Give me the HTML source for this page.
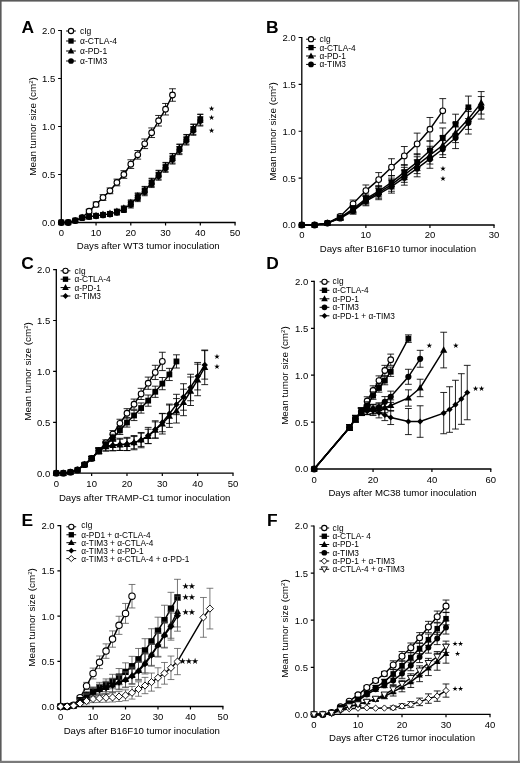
<!DOCTYPE html>
<html lang="en"><head><meta charset="utf-8"><title>Figure</title>
<style>html,body{margin:0;padding:0;background:#fff}svg{display:block}</style></head>
<body>
<svg width="520" height="763" viewBox="0 0 520 763" font-family='"Liberation Sans", sans-serif' font-size="9.5" fill="#000">
<rect x="0" y="0" width="520" height="763" fill="#fff"/>
<text x="21.6" y="33.4" font-size="17.4" font-weight="bold">A</text>
<path d="M61.3,29.9V222.5H235.65" fill="none" stroke="#000" stroke-width="1.3" stroke-linejoin="miter"/>
<text x="55.3" y="225.9" text-anchor="end">0.0</text>
<text x="55.3" y="177.9" text-anchor="end">0.5</text>
<text x="55.3" y="129.9" text-anchor="end">1.0</text>
<text x="55.3" y="81.9" text-anchor="end">1.5</text>
<text x="55.3" y="33.9" text-anchor="end">2.0</text>
<text x="61.3" y="235.7" text-anchor="middle">0</text>
<text x="96.05" y="235.7" text-anchor="middle">10</text>
<text x="130.8" y="235.7" text-anchor="middle">20</text>
<text x="165.55" y="235.7" text-anchor="middle">30</text>
<text x="200.3" y="235.7" text-anchor="middle">40</text>
<text x="235.05" y="235.7" text-anchor="middle">50</text>
<path d="M58.1,222.5H61.3M58.1,174.5H61.3M58.1,126.5H61.3M58.1,78.5H61.3M58.1,30.5H61.3M61.3,222.5V225.4M96.05,222.5V225.4M130.8,222.5V225.4M165.55,222.5V225.4M200.3,222.5V225.4M235.05,222.5V225.4" fill="none" stroke="#000" stroke-width="1.2"/>
<text x="148.18" y="249.35" text-anchor="middle" font-size="9.65">Days after WT3 tumor inoculation</text>
<text transform="translate(36.3,126.5) rotate(-90)" text-anchor="middle" font-size="9.85">Mean tumor size (cm<tspan font-size="6" dy="-3.2">2</tspan><tspan dy="3.2">)</tspan></text>
<path d="M82.15,216.26V219.14M78.75,216.26H85.55M78.75,219.14H85.55M89.1,209.35V213.19M85.7,209.35H92.5M85.7,213.19H92.5M96.05,202.05V206.85M92.65,202.05H99.45M92.65,206.85H99.45M103,194.66V200.42M99.6,194.66H106.4M99.6,200.42H106.4M109.95,187.94V193.7M106.55,187.94H113.35M106.55,193.7H113.35M116.9,179.11V185.83M113.5,179.11H120.3M113.5,185.83H120.3M123.85,170.66V178.34M120.45,170.66H127.25M120.45,178.34H127.25M130.8,159.81V168.45M127.4,159.81H134.2M127.4,168.45H134.2M137.75,150.5V159.14M134.35,150.5H141.15M134.35,159.14H141.15M144.7,138.98V148.58M141.3,138.98H148.1M141.3,148.58H148.1M151.65,127.94V137.54M148.25,127.94H155.05M148.25,137.54H155.05M158.6,115.46V126.02M155.2,115.46H162M155.2,126.02H162M165.55,103.46V114.98M162.15,103.46H168.95M162.15,114.98H168.95M172.5,88.77V101.25M169.1,88.77H175.9M169.1,101.25H175.9" fill="none" stroke="#000" stroke-width="0.85"/>
<polyline points="61.3,222.5 68.25,222.5 75.2,220.58 82.15,217.7 89.1,211.27 96.05,204.45 103,197.54 109.95,190.82 116.9,182.47 123.85,174.5 130.8,164.13 137.75,154.82 144.7,143.78 151.65,132.74 158.6,120.74 165.55,109.22 172.5,95.01" fill="none" stroke="#000" stroke-width="1.45"/>
<circle cx="61.3" cy="222.5" r="2.85" fill="#fff" stroke="#000" stroke-width="1.1"/><circle cx="68.25" cy="222.5" r="2.85" fill="#fff" stroke="#000" stroke-width="1.1"/><circle cx="75.2" cy="220.58" r="2.85" fill="#fff" stroke="#000" stroke-width="1.1"/><circle cx="82.15" cy="217.7" r="2.85" fill="#fff" stroke="#000" stroke-width="1.1"/><circle cx="89.1" cy="211.27" r="2.85" fill="#fff" stroke="#000" stroke-width="1.1"/><circle cx="96.05" cy="204.45" r="2.85" fill="#fff" stroke="#000" stroke-width="1.1"/><circle cx="103" cy="197.54" r="2.85" fill="#fff" stroke="#000" stroke-width="1.1"/><circle cx="109.95" cy="190.82" r="2.85" fill="#fff" stroke="#000" stroke-width="1.1"/><circle cx="116.9" cy="182.47" r="2.85" fill="#fff" stroke="#000" stroke-width="1.1"/><circle cx="123.85" cy="174.5" r="2.85" fill="#fff" stroke="#000" stroke-width="1.1"/><circle cx="130.8" cy="164.13" r="2.85" fill="#fff" stroke="#000" stroke-width="1.1"/><circle cx="137.75" cy="154.82" r="2.85" fill="#fff" stroke="#000" stroke-width="1.1"/><circle cx="144.7" cy="143.78" r="2.85" fill="#fff" stroke="#000" stroke-width="1.1"/><circle cx="151.65" cy="132.74" r="2.85" fill="#fff" stroke="#000" stroke-width="1.1"/><circle cx="158.6" cy="120.74" r="2.85" fill="#fff" stroke="#000" stroke-width="1.1"/><circle cx="165.55" cy="109.22" r="2.85" fill="#fff" stroke="#000" stroke-width="1.1"/><circle cx="172.5" cy="95.01" r="2.85" fill="#fff" stroke="#000" stroke-width="1.1"/>
<path d="M89.1,215.2V218.28M86.1,215.2H92.1M86.1,218.28H92.1M96.05,214.24V217.32M93.05,214.24H99.05M93.05,217.32H99.05M103,213.28V216.36M100,213.28H106M100,216.36H106M109.95,211.94V215.78M106.95,211.94H112.95M106.95,215.78H112.95M116.9,209.64V214.24M113.9,209.64H119.9M113.9,214.24H119.9M123.85,206.76V211.36M120.85,206.76H126.85M120.85,211.36H126.85M130.8,200.71V206.85M127.8,200.71H133.8M127.8,206.85H133.8M137.75,193.6V200.52M134.75,193.6H140.75M134.75,200.52H140.75M144.7,186.98V194.66M141.7,186.98H147.7M141.7,194.66H147.7M151.65,178.82V186.5M148.65,178.82H154.65M148.65,186.5H154.65M158.6,170.76V179.2M155.6,170.76H161.6M155.6,179.2H161.6M165.55,162.88V171.33M162.55,162.88H168.55M162.55,171.33H168.55M172.5,153.86V163.08M169.5,153.86H175.5M169.5,163.08H175.5M179.45,144.45V153.67M176.45,144.45H182.45M176.45,153.67H182.45M186.4,134.85V144.07M183.4,134.85H189.4M183.4,144.07H189.4M193.35,124.39V134.37M190.35,124.39H196.35M190.35,134.37H196.35M200.3,114.4V125.16M197.3,114.4H203.3M197.3,125.16H203.3" fill="none" stroke="#000" stroke-width="0.85"/>
<polyline points="61.3,222.5 68.25,222.5 75.2,220.58 82.15,217.7 89.1,216.74 96.05,215.78 103,214.82 109.95,213.86 116.9,211.94 123.85,209.06 130.8,203.78 137.75,197.06 144.7,190.82 151.65,182.66 158.6,174.98 165.55,167.11 172.5,158.47 179.45,149.06 186.4,139.46 193.35,129.38 200.3,119.78" fill="none" stroke="#000" stroke-width="1.45"/>
<rect x="58.4" y="219.6" width="5.8" height="5.8" fill="#000"/><rect x="65.35" y="219.6" width="5.8" height="5.8" fill="#000"/><rect x="72.3" y="217.68" width="5.8" height="5.8" fill="#000"/><rect x="79.25" y="214.8" width="5.8" height="5.8" fill="#000"/><rect x="86.2" y="213.84" width="5.8" height="5.8" fill="#000"/><rect x="93.15" y="212.88" width="5.8" height="5.8" fill="#000"/><rect x="100.1" y="211.92" width="5.8" height="5.8" fill="#000"/><rect x="107.05" y="210.96" width="5.8" height="5.8" fill="#000"/><rect x="114" y="209.04" width="5.8" height="5.8" fill="#000"/><rect x="120.95" y="206.16" width="5.8" height="5.8" fill="#000"/><rect x="127.9" y="200.88" width="5.8" height="5.8" fill="#000"/><rect x="134.85" y="194.16" width="5.8" height="5.8" fill="#000"/><rect x="141.8" y="187.92" width="5.8" height="5.8" fill="#000"/><rect x="148.75" y="179.76" width="5.8" height="5.8" fill="#000"/><rect x="155.7" y="172.08" width="5.8" height="5.8" fill="#000"/><rect x="162.65" y="164.21" width="5.8" height="5.8" fill="#000"/><rect x="169.6" y="155.57" width="5.8" height="5.8" fill="#000"/><rect x="176.55" y="146.16" width="5.8" height="5.8" fill="#000"/><rect x="183.5" y="136.56" width="5.8" height="5.8" fill="#000"/><rect x="190.45" y="126.48" width="5.8" height="5.8" fill="#000"/><rect x="197.4" y="116.88" width="5.8" height="5.8" fill="#000"/>
<path d="M109.95,211.5V214.38M106.95,211.5H112.95M106.95,214.38H112.95M116.9,209.09V212.54M113.9,209.09H119.9M113.9,212.54H119.9M123.85,205.9V209.35M120.85,205.9H126.85M120.85,209.35H126.85M130.8,199.94V204.55M127.8,199.94H133.8M127.8,204.55H133.8M137.75,192.93V198.12M134.75,192.93H140.75M134.75,198.12H140.75M144.7,186.4V192.16M141.7,186.4H147.7M141.7,192.16H147.7M151.65,178.24V184M148.65,178.24H154.65M148.65,184H154.65M158.6,170.28V176.61M155.6,170.28H161.6M155.6,176.61H161.6M165.55,162.4V168.74M162.55,162.4H168.55M162.55,168.74H168.55M172.5,153.48V160.39M169.5,153.48H175.5M169.5,160.39H175.5M179.45,144.07V150.98M176.45,144.07H182.45M176.45,150.98H182.45M186.4,134.47V141.38M183.4,134.47H189.4M183.4,141.38H189.4M193.35,124.1V131.59M190.35,124.1H196.35M190.35,131.59H196.35M200.3,114.21V122.28M197.3,114.21H203.3M197.3,122.28H203.3" fill="none" stroke="#000" stroke-width="0.85"/>
<polyline points="61.3,222.5 68.25,222.5 75.2,220.38 82.15,217.19 89.1,216.13 96.05,215.06 103,214 109.95,212.94 116.9,210.81 123.85,207.63 130.8,202.24 137.75,195.52 144.7,189.28 151.65,181.12 158.6,173.44 165.55,165.57 172.5,156.93 179.45,147.52 186.4,137.92 193.35,127.84 200.3,118.24" fill="none" stroke="#000" stroke-width="0"/>
<polygon points="61.3,219.08 64.54,224.84 58.06,224.84" fill="#000"/><polygon points="68.25,219.08 71.49,224.84 65.01,224.84" fill="#000"/><polygon points="75.2,216.96 78.44,222.72 71.96,222.72" fill="#000"/><polygon points="82.15,213.77 85.39,219.53 78.91,219.53" fill="#000"/><polygon points="89.1,212.71 92.34,218.47 85.86,218.47" fill="#000"/><polygon points="96.05,211.64 99.29,217.4 92.81,217.4" fill="#000"/><polygon points="103,210.58 106.24,216.34 99.76,216.34" fill="#000"/><polygon points="109.95,209.52 113.19,215.28 106.71,215.28" fill="#000"/><polygon points="116.9,207.39 120.14,213.15 113.66,213.15" fill="#000"/><polygon points="123.85,204.21 127.09,209.97 120.61,209.97" fill="#000"/><polygon points="130.8,198.82 134.04,204.58 127.56,204.58" fill="#000"/><polygon points="137.75,192.1 140.99,197.86 134.51,197.86" fill="#000"/><polygon points="144.7,185.86 147.94,191.62 141.46,191.62" fill="#000"/><polygon points="151.65,177.7 154.89,183.46 148.41,183.46" fill="#000"/><polygon points="158.6,170.02 161.84,175.78 155.36,175.78" fill="#000"/><polygon points="165.55,162.15 168.79,167.91 162.31,167.91" fill="#000"/><polygon points="172.5,153.51 175.74,159.27 169.26,159.27" fill="#000"/><polygon points="179.45,144.1 182.69,149.86 176.21,149.86" fill="#000"/><polygon points="186.4,134.5 189.64,140.26 183.16,140.26" fill="#000"/><polygon points="193.35,124.42 196.59,130.18 190.11,130.18" fill="#000"/><polygon points="200.3,114.82 203.54,120.58 197.06,120.58" fill="#000"/>
<path d="M89.1,216.01V218.7M86.1,216.01H92.1M86.1,218.7H92.1M96.05,215.15V217.84M93.05,215.15H99.05M93.05,217.84H99.05M103,214.3V216.98M100,214.3H106M100,216.98H106M109.95,213.1V216.46M106.95,213.1H112.95M106.95,216.46H112.95M116.9,211.05V215.08M113.9,211.05H119.9M113.9,215.08H119.9M123.85,208.48V212.51M120.85,208.48H126.85M120.85,212.51H126.85M130.8,202.63V208M127.8,202.63H133.8M127.8,208H133.8M137.75,195.57V201.62M134.75,195.57H140.75M134.75,201.62H140.75M144.7,189V195.72M141.7,189H147.7M141.7,195.72H147.7M151.65,180.84V187.56M148.65,180.84H154.65M148.65,187.56H154.65M158.6,172.82V180.21M155.6,172.82H161.6M155.6,180.21H161.6M165.55,164.95V172.34M162.55,164.95H168.55M162.55,172.34H168.55M172.5,155.97V164.04M169.5,155.97H175.5M169.5,164.04H175.5M179.45,146.56V154.63M176.45,146.56H182.45M176.45,154.63H182.45M186.4,136.96V145.03M183.4,136.96H189.4M183.4,145.03H189.4M193.35,126.55V135.28M190.35,126.55H196.35M190.35,135.28H196.35M200.3,116.61V126.02M197.3,116.61H203.3M197.3,126.02H203.3" fill="none" stroke="#000" stroke-width="0.85"/>
<polyline points="61.3,222.5 68.25,222.5 75.2,220.78 82.15,218.21 89.1,217.35 96.05,216.5 103,215.64 109.95,214.78 116.9,213.07 123.85,210.49 130.8,205.32 137.75,198.6 144.7,192.36 151.65,184.2 158.6,176.52 165.55,168.64 172.5,160 179.45,150.6 186.4,141 193.35,130.92 200.3,121.32" fill="none" stroke="#000" stroke-width="0"/>
<circle cx="61.3" cy="222.5" r="2.63" fill="#000"/><circle cx="68.25" cy="222.5" r="2.63" fill="#000"/><circle cx="75.2" cy="220.78" r="2.63" fill="#000"/><circle cx="82.15" cy="218.21" r="2.63" fill="#000"/><circle cx="89.1" cy="217.35" r="2.63" fill="#000"/><circle cx="96.05" cy="216.5" r="2.63" fill="#000"/><circle cx="103" cy="215.64" r="2.63" fill="#000"/><circle cx="109.95" cy="214.78" r="2.63" fill="#000"/><circle cx="116.9" cy="213.07" r="2.63" fill="#000"/><circle cx="123.85" cy="210.49" r="2.63" fill="#000"/><circle cx="130.8" cy="205.32" r="2.63" fill="#000"/><circle cx="137.75" cy="198.6" r="2.63" fill="#000"/><circle cx="144.7" cy="192.36" r="2.63" fill="#000"/><circle cx="151.65" cy="184.2" r="2.63" fill="#000"/><circle cx="158.6" cy="176.52" r="2.63" fill="#000"/><circle cx="165.55" cy="168.64" r="2.63" fill="#000"/><circle cx="172.5" cy="160" r="2.63" fill="#000"/><circle cx="179.45" cy="150.6" r="2.63" fill="#000"/><circle cx="186.4" cy="141" r="2.63" fill="#000"/><circle cx="193.35" cy="130.92" r="2.63" fill="#000"/><circle cx="200.3" cy="121.32" r="2.63" fill="#000"/>
<path d="M66.1,31H75.9" stroke="#000" stroke-width="1"/>
<circle cx="71" cy="31" r="2.62" fill="#fff" stroke="#000" stroke-width="1.1"/>
<text x="80" y="33.9" font-size="8.5">cIg</text>
<path d="M66.1,41H75.9" stroke="#000" stroke-width="1"/>
<rect x="68.33" y="38.33" width="5.34" height="5.34" fill="#000"/>
<text x="80" y="43.9" font-size="8.5">α-CTLA-4</text>
<path d="M66.1,51H75.9" stroke="#000" stroke-width="1"/>
<polygon points="71,47.5 74.31,53.39 67.69,53.39" fill="#000"/>
<text x="80" y="53.9" font-size="8.5">α-PD-1</text>
<path d="M66.1,61H75.9" stroke="#000" stroke-width="1"/>
<circle cx="71" cy="61" r="2.85" fill="#000"/>
<text x="80" y="63.9" font-size="8.5">α-TIM3</text>
<text x="211.5" y="110.56" text-anchor="middle" font-family="'DejaVu Sans', sans-serif" font-size="7.4">★</text>
<text x="211.5" y="120.16" text-anchor="middle" font-family="'DejaVu Sans', sans-serif" font-size="7.4">★</text>
<text x="211.5" y="132.66" text-anchor="middle" font-family="'DejaVu Sans', sans-serif" font-size="7.4">★</text>
<text x="266" y="33.0" font-size="17.4" font-weight="bold">B</text>
<path d="M301.8,36.9V225H494.61" fill="none" stroke="#000" stroke-width="1.3" stroke-linejoin="miter"/>
<text x="295.8" y="228.4" text-anchor="end">0.0</text>
<text x="295.8" y="181.53" text-anchor="end">0.5</text>
<text x="295.8" y="134.65" text-anchor="end">1.0</text>
<text x="295.8" y="87.78" text-anchor="end">1.5</text>
<text x="295.8" y="40.9" text-anchor="end">2.0</text>
<text x="301.8" y="238.4" text-anchor="middle">0</text>
<text x="365.87" y="238.4" text-anchor="middle">10</text>
<text x="429.94" y="238.4" text-anchor="middle">20</text>
<text x="494.01" y="238.4" text-anchor="middle">30</text>
<path d="M298.6,225H301.8M298.6,178.12H301.8M298.6,131.25H301.8M298.6,84.38H301.8M298.6,37.5H301.8M301.8,225V227.9M365.87,225V227.9M429.94,225V227.9M494.01,225V227.9" fill="none" stroke="#000" stroke-width="1.2"/>
<text x="397.9" y="252.4" text-anchor="middle" font-size="9.65">Days after B16F10 tumor inoculation</text>
<text transform="translate(275.9,131.55) rotate(-90)" text-anchor="middle" font-size="9.85">Mean tumor size (cm<tspan font-size="6" dy="-3.2">2</tspan><tspan dy="3.2">)</tspan></text>
<path d="M340.24,214.41V218.16M336.84,214.41H343.64M336.84,218.16H343.64M353.06,200.06V207.56M349.66,200.06H356.46M349.66,207.56H356.46M365.87,184.97V196.22M362.47,184.97H369.27M362.47,196.22H369.27M378.68,172.59V186.66M375.28,172.59H382.08M375.28,186.66H382.08M391.5,158.72V175.59M388.1,158.72H394.9M388.1,175.59H394.9M404.31,146.53V165.28M400.91,146.53H407.71M400.91,165.28H407.71M417.13,133.12V154.69M413.73,133.12H420.53M413.73,154.69H420.53M429.94,117.47V140.91M426.54,117.47H433.34M426.54,140.91H433.34M442.75,98.62V123M439.35,98.62H446.15M439.35,123H446.15" fill="none" stroke="#000" stroke-width="0.85"/>
<polyline points="301.8,225 314.61,225 327.43,223.12 340.24,216.28 353.06,203.81 365.87,190.59 378.68,179.62 391.5,167.16 404.31,155.91 417.13,143.91 429.94,129.19 442.75,110.81" fill="none" stroke="#000" stroke-width="1.45"/>
<circle cx="301.8" cy="225" r="2.85" fill="#fff" stroke="#000" stroke-width="1.1"/><circle cx="314.61" cy="225" r="2.85" fill="#fff" stroke="#000" stroke-width="1.1"/><circle cx="327.43" cy="223.12" r="2.85" fill="#fff" stroke="#000" stroke-width="1.1"/><circle cx="340.24" cy="216.28" r="2.85" fill="#fff" stroke="#000" stroke-width="1.1"/><circle cx="353.06" cy="203.81" r="2.85" fill="#fff" stroke="#000" stroke-width="1.1"/><circle cx="365.87" cy="190.59" r="2.85" fill="#fff" stroke="#000" stroke-width="1.1"/><circle cx="378.68" cy="179.62" r="2.85" fill="#fff" stroke="#000" stroke-width="1.1"/><circle cx="391.5" cy="167.16" r="2.85" fill="#fff" stroke="#000" stroke-width="1.1"/><circle cx="404.31" cy="155.91" r="2.85" fill="#fff" stroke="#000" stroke-width="1.1"/><circle cx="417.13" cy="143.91" r="2.85" fill="#fff" stroke="#000" stroke-width="1.1"/><circle cx="429.94" cy="129.19" r="2.85" fill="#fff" stroke="#000" stroke-width="1.1"/><circle cx="442.75" cy="110.81" r="2.85" fill="#fff" stroke="#000" stroke-width="1.1"/>
<path d="M340.24,215.62V219.38M336.84,215.62H343.64M336.84,219.38H343.64M353.06,205.5V212.06M349.66,205.5H356.46M349.66,212.06H356.46M365.87,194.06V203.44M362.47,194.06H369.27M362.47,203.44H369.27M378.68,185.62V196.88M375.28,185.62H382.08M375.28,196.88H382.08M391.5,175.78V188.91M388.1,175.78H394.9M388.1,188.91H394.9M404.31,164.62V179.62M400.91,164.62H407.71M400.91,179.62H407.71M417.13,153.75V170.62M413.73,153.75H420.53M413.73,170.62H420.53M429.94,141.09V159.84M426.54,141.09H433.34M426.54,159.84H433.34M442.75,127.97V147.66M439.35,127.97H446.15M439.35,147.66H446.15M455.57,114.19V133.88M452.17,114.19H458.97M452.17,133.88H458.97M468.38,96.09V118.59M464.98,96.09H471.78M464.98,118.59H471.78" fill="none" stroke="#000" stroke-width="0.85"/>
<polyline points="301.8,225 314.61,225 327.43,223.12 340.24,217.5 353.06,208.78 365.87,198.75 378.68,191.25 391.5,182.34 404.31,172.12 417.13,162.19 429.94,150.47 442.75,137.81 455.57,124.03 468.38,107.34" fill="none" stroke="#000" stroke-width="1.45"/>
<rect x="298.9" y="222.1" width="5.8" height="5.8" fill="#000"/><rect x="311.71" y="222.1" width="5.8" height="5.8" fill="#000"/><rect x="324.53" y="220.22" width="5.8" height="5.8" fill="#000"/><rect x="337.34" y="214.6" width="5.8" height="5.8" fill="#000"/><rect x="350.16" y="205.88" width="5.8" height="5.8" fill="#000"/><rect x="362.97" y="195.85" width="5.8" height="5.8" fill="#000"/><rect x="375.78" y="188.35" width="5.8" height="5.8" fill="#000"/><rect x="388.6" y="179.44" width="5.8" height="5.8" fill="#000"/><rect x="401.41" y="169.22" width="5.8" height="5.8" fill="#000"/><rect x="414.23" y="159.29" width="5.8" height="5.8" fill="#000"/><rect x="427.04" y="147.57" width="5.8" height="5.8" fill="#000"/><rect x="439.85" y="134.91" width="5.8" height="5.8" fill="#000"/><rect x="452.67" y="121.13" width="5.8" height="5.8" fill="#000"/><rect x="465.48" y="104.44" width="5.8" height="5.8" fill="#000"/>
<path d="M340.24,216.09V219.84M336.84,216.09H343.64M336.84,219.84H343.64M353.06,206.72V213.28M349.66,206.72H356.46M349.66,213.28H356.46M365.87,195.47V204.84M362.47,195.47H369.27M362.47,204.84H369.27M378.68,187.03V198.28M375.28,187.03H382.08M375.28,198.28H382.08M391.5,178.12V191.25M388.1,178.12H394.9M388.1,191.25H394.9M404.31,167.34V182.34M400.91,167.34H407.71M400.91,182.34H407.71M417.13,156.75V173.62M413.73,156.75H420.53M413.73,173.62H420.53M429.94,146.25V164.06M426.54,146.25H433.34M426.54,164.06H433.34M442.75,135.94V154.69M439.35,135.94H446.15M439.35,154.69H446.15M455.57,122.91V142.59M452.17,122.91H458.97M452.17,142.59H458.97M468.38,108.75V129.38M464.98,108.75H471.78M464.98,129.38H471.78M481.2,91.59V114.09M477.8,91.59H484.6M477.8,114.09H484.6" fill="none" stroke="#000" stroke-width="0.85"/>
<polyline points="301.8,225 314.61,225 327.43,223.12 340.24,217.97 353.06,210 365.87,200.16 378.68,192.66 391.5,184.69 404.31,174.84 417.13,165.19 429.94,155.16 442.75,145.31 455.57,132.75 468.38,119.06 481.2,102.84" fill="none" stroke="#000" stroke-width="1.45"/>
<polygon points="301.8,221.2 305.4,227.6 298.2,227.6" fill="#000"/><polygon points="314.61,221.2 318.21,227.6 311.01,227.6" fill="#000"/><polygon points="327.43,219.32 331.03,225.72 323.83,225.72" fill="#000"/><polygon points="340.24,214.17 343.84,220.57 336.64,220.57" fill="#000"/><polygon points="353.06,206.2 356.66,212.6 349.46,212.6" fill="#000"/><polygon points="365.87,196.36 369.47,202.76 362.27,202.76" fill="#000"/><polygon points="378.68,188.86 382.28,195.26 375.08,195.26" fill="#000"/><polygon points="391.5,180.89 395.1,187.29 387.9,187.29" fill="#000"/><polygon points="404.31,171.04 407.91,177.44 400.71,177.44" fill="#000"/><polygon points="417.13,161.39 420.73,167.79 413.53,167.79" fill="#000"/><polygon points="429.94,151.36 433.54,157.76 426.34,157.76" fill="#000"/><polygon points="442.75,141.51 446.35,147.91 439.15,147.91" fill="#000"/><polygon points="455.57,128.95 459.17,135.35 451.97,135.35" fill="#000"/><polygon points="468.38,115.26 471.98,121.66 464.78,121.66" fill="#000"/><polygon points="481.2,99.04 484.8,105.44 477.6,105.44" fill="#000"/>
<path d="M340.24,216.56V220.31M336.84,216.56H343.64M336.84,220.31H343.64M353.06,207.66V214.22M349.66,207.66H356.46M349.66,214.22H356.46M365.87,196.41V205.78M362.47,196.41H369.27M362.47,205.78H369.27M378.68,188.44V199.69M375.28,188.44H382.08M375.28,199.69H382.08M391.5,180V193.12M388.1,180H394.9M388.1,193.12H394.9M404.31,170.16V185.16M400.91,170.16H407.71M400.91,185.16H407.71M417.13,159.94V176.81M413.73,159.94H420.53M413.73,176.81H420.53M429.94,149.53V168.28M426.54,149.53H433.34M426.54,168.28H433.34M442.75,140.62V157.5M439.35,140.62H446.15M439.35,157.5H446.15M455.57,127.03V148.59M452.17,127.03H458.97M452.17,148.59H458.97M468.38,111.56V134.06M464.98,111.56H471.78M464.98,134.06H471.78M481.2,96.56V119.06M477.8,96.56H484.6M477.8,119.06H484.6" fill="none" stroke="#000" stroke-width="0.85"/>
<polyline points="301.8,225 314.61,225 327.43,223.12 340.24,218.44 353.06,210.94 365.87,201.09 378.68,194.06 391.5,186.56 404.31,177.66 417.13,168.38 429.94,158.91 442.75,149.06 455.57,137.81 468.38,122.81 481.2,107.81" fill="none" stroke="#000" stroke-width="1.45"/>
<circle cx="301.8" cy="225" r="3.1" fill="#000"/><circle cx="314.61" cy="225" r="3.1" fill="#000"/><circle cx="327.43" cy="223.12" r="3.1" fill="#000"/><circle cx="340.24" cy="218.44" r="3.1" fill="#000"/><circle cx="353.06" cy="210.94" r="3.1" fill="#000"/><circle cx="365.87" cy="201.09" r="3.1" fill="#000"/><circle cx="378.68" cy="194.06" r="3.1" fill="#000"/><circle cx="391.5" cy="186.56" r="3.1" fill="#000"/><circle cx="404.31" cy="177.66" r="3.1" fill="#000"/><circle cx="417.13" cy="168.38" r="3.1" fill="#000"/><circle cx="429.94" cy="158.91" r="3.1" fill="#000"/><circle cx="442.75" cy="149.06" r="3.1" fill="#000"/><circle cx="455.57" cy="137.81" r="3.1" fill="#000"/><circle cx="468.38" cy="122.81" r="3.1" fill="#000"/><circle cx="481.2" cy="107.81" r="3.1" fill="#000"/>
<path d="M306.1,39.2H315.9" stroke="#000" stroke-width="1"/>
<circle cx="311" cy="39.2" r="2.62" fill="#fff" stroke="#000" stroke-width="1.1"/>
<text x="319.5" y="42.1" font-size="8.3">cIg</text>
<path d="M306.1,47.6H315.9" stroke="#000" stroke-width="1"/>
<rect x="308.33" y="44.93" width="5.34" height="5.34" fill="#000"/>
<text x="319.5" y="50.5" font-size="8.3">α-CTLA-4</text>
<path d="M306.1,56H315.9" stroke="#000" stroke-width="1"/>
<polygon points="311,52.5 314.31,58.39 307.69,58.39" fill="#000"/>
<text x="319.5" y="58.9" font-size="8.3">α-PD-1</text>
<path d="M306.1,64.4H315.9" stroke="#000" stroke-width="1"/>
<circle cx="311" cy="64.4" r="2.85" fill="#000"/>
<text x="319.5" y="67.3" font-size="8.3">α-TIM3</text>
<text x="443" y="171.39" text-anchor="middle" font-family="'DejaVu Sans', sans-serif" font-size="7.2">★</text>
<text x="443" y="180.59" text-anchor="middle" font-family="'DejaVu Sans', sans-serif" font-size="7.2">★</text>
<text x="21.2" y="269.2" font-size="17.4" font-weight="bold">C</text>
<path d="M56.3,269V473.2H233.6" fill="none" stroke="#000" stroke-width="1.3" stroke-linejoin="miter"/>
<text x="50.3" y="476.6" text-anchor="end">0.0</text>
<text x="50.3" y="425.7" text-anchor="end">0.5</text>
<text x="50.3" y="374.8" text-anchor="end">1.0</text>
<text x="50.3" y="323.9" text-anchor="end">1.5</text>
<text x="50.3" y="273" text-anchor="end">2.0</text>
<text x="56.3" y="486.7" text-anchor="middle">0</text>
<text x="91.64" y="486.7" text-anchor="middle">10</text>
<text x="126.98" y="486.7" text-anchor="middle">20</text>
<text x="162.32" y="486.7" text-anchor="middle">30</text>
<text x="197.66" y="486.7" text-anchor="middle">40</text>
<text x="233" y="486.7" text-anchor="middle">50</text>
<path d="M53.1,473.2H56.3M53.1,422.3H56.3M53.1,371.4H56.3M53.1,320.5H56.3M53.1,269.6H56.3M56.3,473.2V476.1M91.64,473.2V476.1M126.98,473.2V476.1M162.32,473.2V476.1M197.66,473.2V476.1M233,473.2V476.1" fill="none" stroke="#000" stroke-width="1.2"/>
<text x="144.65" y="500.7" text-anchor="middle" font-size="9.65">Days after TRAMP-C1 tumor inoculation</text>
<text transform="translate(31,371.4) rotate(-90)" text-anchor="middle" font-size="9.85">Mean tumor size (cm<tspan font-size="6" dy="-3.2">2</tspan><tspan dy="3.2">)</tspan></text>
<path d="M84.57,463.12V466.18M81.17,463.12H87.97M81.17,466.18H87.97M91.64,456.4V460.47M88.24,456.4H95.04M88.24,460.47H95.04M98.71,448.26V453.35M95.31,448.26H102.11M95.31,453.35H102.11M105.78,439.81V445.92M102.38,439.81H109.18M102.38,445.92H109.18M112.84,430.55V437.67M109.44,430.55H116.24M109.44,437.67H116.24M119.91,419.25V427.39M116.51,419.25H123.31M116.51,427.39H123.31M126.98,408.66V417.82M123.58,408.66H130.38M123.58,417.82H130.38M134.05,399.09V409.27M130.65,399.09H137.45M130.65,409.27H137.45M141.12,388.3V399.5M137.72,388.3H144.52M137.72,399.5H144.52M148.18,377.1V389.32M144.78,377.1H151.58M144.78,389.32H151.58M155.25,365.29V379.54M151.85,365.29H158.65M151.85,379.54H158.65M162.32,352.26V370.59M158.92,352.26H165.72M158.92,370.59H165.72" fill="none" stroke="#000" stroke-width="0.85"/>
<polyline points="56.3,473.2 63.37,473.2 70.44,472.18 77.5,469.94 84.57,464.65 91.64,458.44 98.71,450.8 105.78,442.86 112.84,434.11 119.91,423.32 126.98,413.24 134.05,404.18 141.12,393.9 148.18,383.21 155.25,372.42 162.32,361.42" fill="none" stroke="#000" stroke-width="1.45"/>
<circle cx="56.3" cy="473.2" r="2.85" fill="#fff" stroke="#000" stroke-width="1.1"/><circle cx="63.37" cy="473.2" r="2.85" fill="#fff" stroke="#000" stroke-width="1.1"/><circle cx="70.44" cy="472.18" r="2.85" fill="#fff" stroke="#000" stroke-width="1.1"/><circle cx="77.5" cy="469.94" r="2.85" fill="#fff" stroke="#000" stroke-width="1.1"/><circle cx="84.57" cy="464.65" r="2.85" fill="#fff" stroke="#000" stroke-width="1.1"/><circle cx="91.64" cy="458.44" r="2.85" fill="#fff" stroke="#000" stroke-width="1.1"/><circle cx="98.71" cy="450.8" r="2.85" fill="#fff" stroke="#000" stroke-width="1.1"/><circle cx="105.78" cy="442.86" r="2.85" fill="#fff" stroke="#000" stroke-width="1.1"/><circle cx="112.84" cy="434.11" r="2.85" fill="#fff" stroke="#000" stroke-width="1.1"/><circle cx="119.91" cy="423.32" r="2.85" fill="#fff" stroke="#000" stroke-width="1.1"/><circle cx="126.98" cy="413.24" r="2.85" fill="#fff" stroke="#000" stroke-width="1.1"/><circle cx="134.05" cy="404.18" r="2.85" fill="#fff" stroke="#000" stroke-width="1.1"/><circle cx="141.12" cy="393.9" r="2.85" fill="#fff" stroke="#000" stroke-width="1.1"/><circle cx="148.18" cy="383.21" r="2.85" fill="#fff" stroke="#000" stroke-width="1.1"/><circle cx="155.25" cy="372.42" r="2.85" fill="#fff" stroke="#000" stroke-width="1.1"/><circle cx="162.32" cy="361.42" r="2.85" fill="#fff" stroke="#000" stroke-width="1.1"/>
<path d="M84.57,463.12V466.18M81.17,463.12H87.97M81.17,466.18H87.97M91.64,456.4V460.47M88.24,456.4H95.04M88.24,460.47H95.04M98.71,448.26V453.35M95.31,448.26H102.11M95.31,453.35H102.11M105.78,441.85V447.95M102.38,441.85H109.18M102.38,447.95H109.18M112.84,434.31V441.44M109.44,434.31H116.24M109.44,441.44H116.24M119.91,426.37V434.52M116.51,426.37H123.31M116.51,434.52H123.31M126.98,417.92V427.08M123.58,417.92H130.38M123.58,427.08H130.38M134.05,410.39V420.57M130.65,410.39H137.45M130.65,420.57H137.45M141.12,402.96V413.14M137.72,402.96H144.52M137.72,413.14H144.52M148.18,395.02V406.22M144.78,395.02H151.58M144.78,406.22H151.58M155.25,386.16V397.36M151.85,386.16H158.65M151.85,397.36H158.65M162.32,377.51V389.72M158.92,377.51H165.72M158.92,389.72H165.72M169.39,368.35V380.56M165.99,368.35H172.79M165.99,380.56H172.79M176.46,354.81V368.04M173.06,354.81H179.86M173.06,368.04H179.86" fill="none" stroke="#000" stroke-width="0.85"/>
<polyline points="56.3,473.2 63.37,473.2 70.44,472.18 77.5,469.94 84.57,464.65 91.64,458.44 98.71,450.8 105.78,444.9 112.84,437.88 119.91,430.44 126.98,422.5 134.05,415.48 141.12,408.05 148.18,400.62 155.25,391.76 162.32,383.62 169.39,374.45 176.46,361.42" fill="none" stroke="#000" stroke-width="1.45"/>
<rect x="53.4" y="470.3" width="5.8" height="5.8" fill="#000"/><rect x="60.47" y="470.3" width="5.8" height="5.8" fill="#000"/><rect x="67.54" y="469.28" width="5.8" height="5.8" fill="#000"/><rect x="74.6" y="467.04" width="5.8" height="5.8" fill="#000"/><rect x="81.67" y="461.75" width="5.8" height="5.8" fill="#000"/><rect x="88.74" y="455.54" width="5.8" height="5.8" fill="#000"/><rect x="95.81" y="447.9" width="5.8" height="5.8" fill="#000"/><rect x="102.88" y="442" width="5.8" height="5.8" fill="#000"/><rect x="109.94" y="434.98" width="5.8" height="5.8" fill="#000"/><rect x="117.01" y="427.54" width="5.8" height="5.8" fill="#000"/><rect x="124.08" y="419.6" width="5.8" height="5.8" fill="#000"/><rect x="131.15" y="412.58" width="5.8" height="5.8" fill="#000"/><rect x="138.22" y="405.15" width="5.8" height="5.8" fill="#000"/><rect x="145.28" y="397.72" width="5.8" height="5.8" fill="#000"/><rect x="152.35" y="388.86" width="5.8" height="5.8" fill="#000"/><rect x="159.42" y="380.72" width="5.8" height="5.8" fill="#000"/><rect x="166.49" y="371.55" width="5.8" height="5.8" fill="#000"/><rect x="173.56" y="358.52" width="5.8" height="5.8" fill="#000"/>
<path d="M84.57,463.12V466.18M81.17,463.12H87.97M81.17,466.18H87.97M91.64,456.4V460.47M88.24,456.4H95.04M88.24,460.47H95.04M98.71,447.75V453.86M95.31,447.75H102.11M95.31,453.86H102.11M105.78,442.66V450.8M102.38,442.66H109.18M102.38,450.8H109.18M112.84,440.42V450.6M109.44,440.42H116.24M109.44,450.6H116.24M119.91,439.2V450.4M116.51,439.2H123.31M116.51,450.4H123.31M126.98,438.28V450.5M123.58,438.28H130.38M123.58,450.5H130.38M134.05,436.55V448.77M130.65,436.55H137.45M130.65,448.77H137.45M141.12,433.19V446.43M137.72,433.19H144.52M137.72,446.43H144.52M148.18,429.22V443.47M144.78,429.22H151.58M144.78,443.47H151.58M155.25,421.89V438.18M151.85,421.89H158.65M151.85,438.18H158.65M162.32,413.65V434.01M158.92,413.65H165.72M158.92,434.01H165.72M169.39,404.99V427.39M165.99,404.99H172.79M165.99,427.39H172.79M176.46,398.58V423.01M173.06,398.58H179.86M173.06,423.01H179.86M183.52,389.22V415.68M180.12,389.22H186.92M180.12,415.68H186.92M190.59,377V405.5M187.19,377H193.99M187.19,405.5H193.99M197.66,364.17V395.73M194.26,364.17H201.06M194.26,395.73H201.06M204.73,350.02V384.63M201.33,350.02H208.13M201.33,384.63H208.13" fill="none" stroke="#000" stroke-width="0.85"/>
<polyline points="56.3,473.2 63.37,473.2 70.44,472.18 77.5,469.94 84.57,464.65 91.64,458.44 98.71,450.8 105.78,446.73 112.84,445.51 119.91,444.8 126.98,444.39 134.05,442.66 141.12,439.81 148.18,436.35 155.25,430.04 162.32,423.83 169.39,416.19 176.46,410.8 183.52,402.45 190.59,391.25 197.66,379.95 204.73,367.33" fill="none" stroke="#000" stroke-width="1.45"/>
<polygon points="56.3,469.4 59.9,475.8 52.7,475.8" fill="#000"/><polygon points="63.37,469.4 66.97,475.8 59.77,475.8" fill="#000"/><polygon points="70.44,468.38 74.04,474.78 66.84,474.78" fill="#000"/><polygon points="77.5,466.14 81.1,472.54 73.9,472.54" fill="#000"/><polygon points="84.57,460.85 88.17,467.25 80.97,467.25" fill="#000"/><polygon points="91.64,454.64 95.24,461.04 88.04,461.04" fill="#000"/><polygon points="98.71,447 102.31,453.4 95.11,453.4" fill="#000"/><polygon points="105.78,442.93 109.38,449.33 102.18,449.33" fill="#000"/><polygon points="112.84,441.71 116.44,448.11 109.24,448.11" fill="#000"/><polygon points="119.91,441 123.51,447.4 116.31,447.4" fill="#000"/><polygon points="126.98,440.59 130.58,446.99 123.38,446.99" fill="#000"/><polygon points="134.05,438.86 137.65,445.26 130.45,445.26" fill="#000"/><polygon points="141.12,436.01 144.72,442.41 137.52,442.41" fill="#000"/><polygon points="148.18,432.55 151.78,438.95 144.58,438.95" fill="#000"/><polygon points="155.25,426.24 158.85,432.64 151.65,432.64" fill="#000"/><polygon points="162.32,420.03 165.92,426.43 158.72,426.43" fill="#000"/><polygon points="169.39,412.39 172.99,418.79 165.79,418.79" fill="#000"/><polygon points="176.46,407 180.06,413.4 172.86,413.4" fill="#000"/><polygon points="183.52,398.65 187.12,405.05 179.92,405.05" fill="#000"/><polygon points="190.59,387.45 194.19,393.85 186.99,393.85" fill="#000"/><polygon points="197.66,376.15 201.26,382.55 194.06,382.55" fill="#000"/><polygon points="204.73,363.53 208.33,369.93 201.13,369.93" fill="#000"/>
<path d="M84.57,463.12V466.18M81.17,463.12H87.97M81.17,466.18H87.97M91.64,456.4V460.47M88.24,456.4H95.04M88.24,460.47H95.04M98.71,447.75V453.86M95.31,447.75H102.11M95.31,453.86H102.11M105.78,441.95V451.11M102.38,441.95H109.18M102.38,451.11H109.18M112.84,439.61V450.8M109.44,439.61H116.24M109.44,450.8H116.24M119.91,438.28V450.5M116.51,438.28H123.31M116.51,450.5H123.31M126.98,437.37V450.6M123.58,437.37H130.38M123.58,450.6H130.38M134.05,435.53V449.79M130.65,435.53H137.45M130.65,449.79H137.45M141.12,432.48V447.75M137.72,432.48H144.52M137.72,447.75H144.52M148.18,427.39V443.68M144.78,427.39H151.58M144.78,443.68H151.58M155.25,420.77V438.08M151.85,420.77H158.65M151.85,438.08H158.65M162.32,413.39V431.72M158.92,413.39H165.72M158.92,431.72H165.72M169.39,404.08V423.42M165.99,404.08H172.79M165.99,423.42H172.79M176.46,394.31V414.67M173.06,394.31H179.86M173.06,414.67H179.86M183.52,383.72V410.19M180.12,383.72H186.92M180.12,410.19H186.92M190.59,374.25V400.72M187.19,374.25H193.99M187.19,400.72H193.99M197.66,362.44V389.93M194.26,362.44H201.06M194.26,389.93H201.06M204.73,350.63V379.14M201.33,350.63H208.13M201.33,379.14H208.13" fill="none" stroke="#000" stroke-width="0.85"/>
<polyline points="56.3,473.2 63.37,473.2 70.44,472.18 77.5,469.94 84.57,464.65 91.64,458.44 98.71,450.8 105.78,446.53 112.84,445.2 119.91,444.39 126.98,443.98 134.05,442.66 141.12,440.12 148.18,435.53 155.25,429.43 162.32,422.55 169.39,413.75 176.46,404.49 183.52,396.95 190.59,387.48 197.66,376.18 204.73,364.88" fill="none" stroke="#000" stroke-width="1.45"/>
<polygon points="56.3,469.96 59.54,473.2 56.3,476.44 53.06,473.2" fill="#000"/><polygon points="63.37,469.96 66.61,473.2 63.37,476.44 60.13,473.2" fill="#000"/><polygon points="70.44,468.94 73.68,472.18 70.44,475.42 67.2,472.18" fill="#000"/><polygon points="77.5,466.7 80.74,469.94 77.5,473.18 74.26,469.94" fill="#000"/><polygon points="84.57,461.41 87.81,464.65 84.57,467.89 81.33,464.65" fill="#000"/><polygon points="91.64,455.2 94.88,458.44 91.64,461.68 88.4,458.44" fill="#000"/><polygon points="98.71,447.56 101.95,450.8 98.71,454.04 95.47,450.8" fill="#000"/><polygon points="105.78,443.29 109.02,446.53 105.78,449.77 102.54,446.53" fill="#000"/><polygon points="112.84,441.96 116.08,445.2 112.84,448.44 109.6,445.2" fill="#000"/><polygon points="119.91,441.15 123.15,444.39 119.91,447.63 116.67,444.39" fill="#000"/><polygon points="126.98,440.74 130.22,443.98 126.98,447.22 123.74,443.98" fill="#000"/><polygon points="134.05,439.42 137.29,442.66 134.05,445.9 130.81,442.66" fill="#000"/><polygon points="141.12,436.88 144.36,440.12 141.12,443.36 137.88,440.12" fill="#000"/><polygon points="148.18,432.29 151.42,435.53 148.18,438.77 144.94,435.53" fill="#000"/><polygon points="155.25,426.19 158.49,429.43 155.25,432.67 152.01,429.43" fill="#000"/><polygon points="162.32,419.31 165.56,422.55 162.32,425.79 159.08,422.55" fill="#000"/><polygon points="169.39,410.51 172.63,413.75 169.39,416.99 166.15,413.75" fill="#000"/><polygon points="176.46,401.25 179.7,404.49 176.46,407.73 173.22,404.49" fill="#000"/><polygon points="183.52,393.71 186.76,396.95 183.52,400.19 180.28,396.95" fill="#000"/><polygon points="190.59,384.24 193.83,387.48 190.59,390.72 187.35,387.48" fill="#000"/><polygon points="197.66,372.94 200.9,376.18 197.66,379.42 194.42,376.18" fill="#000"/><polygon points="204.73,361.64 207.97,364.88 204.73,368.12 201.49,364.88" fill="#000"/>
<path d="M60.6,270.8H70.4" stroke="#000" stroke-width="1"/>
<circle cx="65.5" cy="270.8" r="2.62" fill="#fff" stroke="#000" stroke-width="1.1"/>
<text x="74.5" y="273.7" font-size="8.3">cIg</text>
<path d="M60.6,279.2H70.4" stroke="#000" stroke-width="1"/>
<rect x="62.83" y="276.53" width="5.34" height="5.34" fill="#000"/>
<text x="74.5" y="282.1" font-size="8.3">α-CTLA-4</text>
<path d="M60.6,287.6H70.4" stroke="#000" stroke-width="1"/>
<polygon points="65.5,284.1 68.81,289.99 62.19,289.99" fill="#000"/>
<text x="74.5" y="290.5" font-size="8.3">α-PD-1</text>
<path d="M60.6,296H70.4" stroke="#000" stroke-width="1"/>
<polygon points="65.5,293.12 68.38,296 65.5,298.88 62.62,296" fill="#000"/>
<text x="74.5" y="298.9" font-size="8.3">α-TIM3</text>
<text x="217" y="358.89" text-anchor="middle" font-family="'DejaVu Sans', sans-serif" font-size="7.2">★</text>
<text x="217" y="368.59" text-anchor="middle" font-family="'DejaVu Sans', sans-serif" font-size="7.2">★</text>
<text x="266.3" y="269.0" font-size="17.4" font-weight="bold">D</text>
<path d="M314.2,280.8V469H491.38" fill="none" stroke="#000" stroke-width="1.3" stroke-linejoin="miter"/>
<text x="308.2" y="472.4" text-anchor="end">0.0</text>
<text x="308.2" y="425.5" text-anchor="end">0.5</text>
<text x="308.2" y="378.6" text-anchor="end">1.0</text>
<text x="308.2" y="331.7" text-anchor="end">1.5</text>
<text x="308.2" y="284.8" text-anchor="end">2.0</text>
<text x="314.2" y="482.8" text-anchor="middle">0</text>
<text x="373.06" y="482.8" text-anchor="middle">20</text>
<text x="431.92" y="482.8" text-anchor="middle">40</text>
<text x="490.78" y="482.8" text-anchor="middle">60</text>
<path d="M311,469H314.2M311,422.1H314.2M311,375.2H314.2M311,328.3H314.2M311,281.4H314.2M314.2,469V471.9M373.06,469V471.9M431.92,469V471.9M490.78,469V471.9" fill="none" stroke="#000" stroke-width="1.2"/>
<text x="402.49" y="496.2" text-anchor="middle" font-size="9.65">Days after MC38 tumor inoculation</text>
<text transform="translate(287.8,375.6) rotate(-90)" text-anchor="middle" font-size="9.85">Mean tumor size (cm<tspan font-size="6" dy="-3.2">2</tspan><tspan dy="3.2">)</tspan></text>
<path d="M349.52,424.73V430.35M346.12,424.73H352.92M346.12,430.35H352.92M355.4,415.44V422.01M352,415.44H358.8M352,422.01H358.8M361.29,408.03V415.53M357.89,408.03H364.69M357.89,415.53H364.69M367.17,396.77V405.22M363.77,396.77H370.57M363.77,405.22H370.57M373.06,385.8V395.18M369.66,385.8H376.46M369.66,395.18H376.46M378.95,375.86V385.24M375.55,375.86H382.35M375.55,385.24H382.35M384.83,365.35V375.67M381.43,365.35H388.23M381.43,375.67H388.23M390.72,354.1V365.35M387.32,354.1H394.12M387.32,365.35H394.12" fill="none" stroke="#000" stroke-width="0.85"/>
<polyline points="314.2,469 349.52,427.54 355.4,418.72 361.29,411.78 367.17,401 373.06,390.49 378.95,380.55 384.83,370.51 390.72,359.72" fill="none" stroke="#000" stroke-width="1.45"/>
<circle cx="314.2" cy="469" r="2.85" fill="#fff" stroke="#000" stroke-width="1.1"/><circle cx="349.52" cy="427.54" r="2.85" fill="#fff" stroke="#000" stroke-width="1.1"/><circle cx="355.4" cy="418.72" r="2.85" fill="#fff" stroke="#000" stroke-width="1.1"/><circle cx="361.29" cy="411.78" r="2.85" fill="#fff" stroke="#000" stroke-width="1.1"/><circle cx="367.17" cy="401" r="2.85" fill="#fff" stroke="#000" stroke-width="1.1"/><circle cx="373.06" cy="390.49" r="2.85" fill="#fff" stroke="#000" stroke-width="1.1"/><circle cx="378.95" cy="380.55" r="2.85" fill="#fff" stroke="#000" stroke-width="1.1"/><circle cx="384.83" cy="370.51" r="2.85" fill="#fff" stroke="#000" stroke-width="1.1"/><circle cx="390.72" cy="359.72" r="2.85" fill="#fff" stroke="#000" stroke-width="1.1"/>
<path d="M349.52,424.73V430.35M346.12,424.73H352.92M346.12,430.35H352.92M355.4,415.44V422.01M352,415.44H358.8M352,422.01H358.8M361.29,408.03V415.53M357.89,408.03H364.69M357.89,415.53H364.69M367.17,401.75V409.25M363.77,401.75H370.57M363.77,409.25H370.57M373.06,391.8V399.31M369.66,391.8H376.46M369.66,399.31H376.46M378.95,383.74V392.18M375.55,383.74H382.35M375.55,392.18H382.35M384.83,376.33V384.77M381.43,376.33H388.23M381.43,384.77H388.23M390.72,367.04V376.42M387.32,367.04H394.12M387.32,376.42H394.12M408.38,334.87V342.37M404.98,334.87H411.78M404.98,342.37H411.78" fill="none" stroke="#000" stroke-width="0.85"/>
<polyline points="314.2,469 349.52,427.54 355.4,418.72 361.29,411.78 367.17,405.5 373.06,395.55 378.95,387.96 384.83,380.55 390.72,371.73 408.38,338.62" fill="none" stroke="#000" stroke-width="1.45"/>
<rect x="311.3" y="466.1" width="5.8" height="5.8" fill="#000"/><rect x="346.62" y="424.64" width="5.8" height="5.8" fill="#000"/><rect x="352.5" y="415.82" width="5.8" height="5.8" fill="#000"/><rect x="358.39" y="408.88" width="5.8" height="5.8" fill="#000"/><rect x="364.27" y="402.6" width="5.8" height="5.8" fill="#000"/><rect x="370.16" y="392.65" width="5.8" height="5.8" fill="#000"/><rect x="376.05" y="385.06" width="5.8" height="5.8" fill="#000"/><rect x="381.93" y="377.65" width="5.8" height="5.8" fill="#000"/><rect x="387.82" y="368.83" width="5.8" height="5.8" fill="#000"/><rect x="405.48" y="335.72" width="5.8" height="5.8" fill="#000"/>
<path d="M349.52,424.73V430.35M346.12,424.73H352.92M346.12,430.35H352.92M355.4,415.44V422.01M352,415.44H358.8M352,422.01H358.8M361.29,408.03V415.53M357.89,408.03H364.69M357.89,415.53H364.69M367.17,404.75V414.13M363.77,404.75H370.57M363.77,414.13H370.57M373.06,404.28V413.66M369.66,404.28H376.46M369.66,413.66H376.46M378.95,403.81V413.19M375.55,403.81H382.35M375.55,413.19H382.35M384.83,402.4V412.72M381.43,402.4H388.23M381.43,412.72H388.23M390.72,399.87V411.13M387.32,399.87H394.12M387.32,411.13H394.12M408.38,389.83V406.15M404.98,389.83H411.78M404.98,406.15H411.78M420.15,379.23V396.68M416.75,379.23H423.55M416.75,396.68H423.55M443.69,332.24V367.88M440.29,332.24H447.09M440.29,367.88H447.09" fill="none" stroke="#000" stroke-width="0.85"/>
<polyline points="314.2,469 349.52,427.54 355.4,418.72 361.29,411.78 367.17,409.44 373.06,408.97 378.95,408.5 384.83,407.56 390.72,405.5 408.38,397.99 420.15,387.96 443.69,350.06" fill="none" stroke="#000" stroke-width="1.45"/>
<polygon points="314.2,465.2 317.8,471.6 310.6,471.6" fill="#000"/><polygon points="349.52,423.74 353.12,430.14 345.92,430.14" fill="#000"/><polygon points="355.4,414.92 359,421.32 351.8,421.32" fill="#000"/><polygon points="361.29,407.98 364.89,414.38 357.69,414.38" fill="#000"/><polygon points="367.17,405.64 370.77,412.04 363.57,412.04" fill="#000"/><polygon points="373.06,405.17 376.66,411.57 369.46,411.57" fill="#000"/><polygon points="378.95,404.7 382.55,411.1 375.35,411.1" fill="#000"/><polygon points="384.83,403.76 388.43,410.16 381.23,410.16" fill="#000"/><polygon points="390.72,401.7 394.32,408.1 387.12,408.1" fill="#000"/><polygon points="408.38,394.19 411.98,400.59 404.78,400.59" fill="#000"/><polygon points="420.15,384.16 423.75,390.56 416.55,390.56" fill="#000"/><polygon points="443.69,346.26 447.29,352.66 440.09,352.66" fill="#000"/>
<path d="M349.52,424.73V430.35M346.12,424.73H352.92M346.12,430.35H352.92M355.4,415.44V422.01M352,415.44H358.8M352,422.01H358.8M361.29,408.03V415.53M357.89,408.03H364.69M357.89,415.53H364.69M367.17,405.22V414.6M363.77,405.22H370.57M363.77,414.6H370.57M373.06,404.56V413.94M369.66,404.56H376.46M369.66,413.94H376.46M378.95,402.78V412.16M375.55,402.78H382.35M375.55,412.16H382.35M384.83,396.59V406.9M381.43,396.59H388.23M381.43,406.9H388.23M390.72,391.15V402.4M387.32,391.15H394.12M387.32,402.4H394.12M408.38,369.29V384.3M404.98,369.29H411.78M404.98,384.3H411.78M420.15,350.34V367.23M416.75,350.34H423.55M416.75,367.23H423.55" fill="none" stroke="#000" stroke-width="0.85"/>
<polyline points="314.2,469 349.52,427.54 355.4,418.72 361.29,411.78 367.17,409.91 373.06,409.25 378.95,407.47 384.83,401.75 390.72,396.77 408.38,376.79 420.15,358.78" fill="none" stroke="#000" stroke-width="1.45"/>
<circle cx="314.2" cy="469" r="3.1" fill="#000"/><circle cx="349.52" cy="427.54" r="3.1" fill="#000"/><circle cx="355.4" cy="418.72" r="3.1" fill="#000"/><circle cx="361.29" cy="411.78" r="3.1" fill="#000"/><circle cx="367.17" cy="409.91" r="3.1" fill="#000"/><circle cx="373.06" cy="409.25" r="3.1" fill="#000"/><circle cx="378.95" cy="407.47" r="3.1" fill="#000"/><circle cx="384.83" cy="401.75" r="3.1" fill="#000"/><circle cx="390.72" cy="396.77" r="3.1" fill="#000"/><circle cx="408.38" cy="376.79" r="3.1" fill="#000"/><circle cx="420.15" cy="358.78" r="3.1" fill="#000"/>
<path d="M349.52,424.73V430.35M346.12,424.73H352.92M346.12,430.35H352.92M355.4,415.44V422.01M352,415.44H358.8M352,422.01H358.8M361.29,408.03V415.53M357.89,408.03H364.69M357.89,415.53H364.69M367.17,405.22V414.6M363.77,405.22H370.57M363.77,414.6H370.57M373.06,406.15V415.53M369.66,406.15H376.46M369.66,415.53H376.46M378.95,407.56V417.88M375.55,407.56H382.35M375.55,417.88H382.35M384.83,409.34V420.6M381.43,409.34H388.23M381.43,420.6H388.23M390.72,410.47V424.54M387.32,410.47H394.12M387.32,424.54H394.12M408.38,408.5V434.58M404.98,408.5H411.78M404.98,434.58H411.78M420.15,405.78V437.3M416.75,405.78H423.55M416.75,437.3H423.55M443.69,392.46V433.73M440.29,392.46H447.09M440.29,433.73H447.09M449.58,386.74V432.32M446.18,386.74H452.98M446.18,432.32H452.98M455.46,380.27V429.04M452.06,380.27H458.86M452.06,429.04H458.86M461.35,373.7V424.35M457.95,373.7H464.75M457.95,424.35H464.75M467.24,365.35V419.75M463.84,365.35H470.64M463.84,419.75H470.64" fill="none" stroke="#000" stroke-width="0.85"/>
<polyline points="314.2,469 349.52,427.54 355.4,418.72 361.29,411.78 367.17,409.91 373.06,410.84 378.95,412.72 384.83,414.97 390.72,417.5 408.38,421.54 420.15,421.54 443.69,413.1 449.58,409.53 455.46,404.65 461.35,399.03 467.24,392.55" fill="none" stroke="#000" stroke-width="1.45"/>
<polygon points="314.2,465.94 317.26,469 314.2,472.06 311.14,469" fill="#000"/><polygon points="349.52,424.48 352.58,427.54 349.52,430.6 346.46,427.54" fill="#000"/><polygon points="355.4,415.66 358.46,418.72 355.4,421.78 352.34,418.72" fill="#000"/><polygon points="361.29,408.72 364.35,411.78 361.29,414.84 358.23,411.78" fill="#000"/><polygon points="367.17,406.85 370.23,409.91 367.17,412.97 364.11,409.91" fill="#000"/><polygon points="373.06,407.78 376.12,410.84 373.06,413.9 370,410.84" fill="#000"/><polygon points="378.95,409.66 382.01,412.72 378.95,415.78 375.89,412.72" fill="#000"/><polygon points="384.83,411.91 387.89,414.97 384.83,418.03 381.77,414.97" fill="#000"/><polygon points="390.72,414.44 393.78,417.5 390.72,420.56 387.66,417.5" fill="#000"/><polygon points="408.38,418.48 411.44,421.54 408.38,424.6 405.32,421.54" fill="#000"/><polygon points="420.15,418.48 423.21,421.54 420.15,424.6 417.09,421.54" fill="#000"/><polygon points="443.69,410.04 446.75,413.1 443.69,416.16 440.63,413.1" fill="#000"/><polygon points="449.58,406.47 452.64,409.53 449.58,412.59 446.52,409.53" fill="#000"/><polygon points="455.46,401.59 458.52,404.65 455.46,407.71 452.4,404.65" fill="#000"/><polygon points="461.35,395.97 464.41,399.03 461.35,402.09 458.29,399.03" fill="#000"/><polygon points="467.24,389.49 470.3,392.55 467.24,395.61 464.18,392.55" fill="#000"/>
<path d="M319.6,281.8H329.4" stroke="#000" stroke-width="1"/>
<circle cx="324.5" cy="281.8" r="2.62" fill="#fff" stroke="#000" stroke-width="1.1"/>
<text x="332.5" y="284.1" font-size="8.3">cIg</text>
<path d="M319.6,290.3H329.4" stroke="#000" stroke-width="1"/>
<rect x="321.83" y="287.63" width="5.34" height="5.34" fill="#000"/>
<text x="332.5" y="293.2" font-size="8.3">α-CTLA-4</text>
<path d="M319.6,298.8H329.4" stroke="#000" stroke-width="1"/>
<polygon points="324.5,295.3 327.81,301.19 321.19,301.19" fill="#000"/>
<text x="332.5" y="301.7" font-size="8.3">α-PD-1</text>
<path d="M319.6,307.3H329.4" stroke="#000" stroke-width="1"/>
<circle cx="324.5" cy="307.3" r="2.85" fill="#000"/>
<text x="332.5" y="310.2" font-size="8.3">α-TIM3</text>
<path d="M319.6,315.8H329.4" stroke="#000" stroke-width="1"/>
<polygon points="324.5,312.92 327.38,315.8 324.5,318.68 321.62,315.8" fill="#000"/>
<text x="332.5" y="318.7" font-size="8.3">α-PD-1 + α-TIM3</text>
<text x="429.3" y="347.66" text-anchor="middle" font-family="'DejaVu Sans', sans-serif" font-size="7.4">★</text>
<text x="455.7" y="347.66" text-anchor="middle" font-family="'DejaVu Sans', sans-serif" font-size="7.4">★</text>
<text x="475.5" y="391.36" text-anchor="middle" font-family="'DejaVu Sans', sans-serif" font-size="7.4">★</text>
<text x="481.5" y="391.36" text-anchor="middle" font-family="'DejaVu Sans', sans-serif" font-size="7.4">★</text>
<text x="21.5" y="526.3" font-size="17.4" font-weight="bold">E</text>
<path d="M60.6,525.1V706.5H223.5" fill="none" stroke="#000" stroke-width="1.3" stroke-linejoin="miter"/>
<text x="54.6" y="709.9" text-anchor="end">0.0</text>
<text x="54.6" y="664.7" text-anchor="end">0.5</text>
<text x="54.6" y="619.5" text-anchor="end">1.0</text>
<text x="54.6" y="574.3" text-anchor="end">1.5</text>
<text x="54.6" y="529.1" text-anchor="end">2.0</text>
<text x="60.6" y="720.2" text-anchor="middle">0</text>
<text x="93.06" y="720.2" text-anchor="middle">10</text>
<text x="125.52" y="720.2" text-anchor="middle">20</text>
<text x="157.98" y="720.2" text-anchor="middle">30</text>
<text x="190.44" y="720.2" text-anchor="middle">40</text>
<text x="222.9" y="720.2" text-anchor="middle">50</text>
<path d="M57.4,706.5H60.6M57.4,661.3H60.6M57.4,616.1H60.6M57.4,570.9H60.6M57.4,525.7H60.6M60.6,706.5V709.4M93.06,706.5V709.4M125.52,706.5V709.4M157.98,706.5V709.4M190.44,706.5V709.4M222.9,706.5V709.4" fill="none" stroke="#000" stroke-width="1.2"/>
<text x="141.75" y="733.5" text-anchor="middle" font-size="9.65">Days after B16F10 tumor inoculation</text>
<text transform="translate(35.2,617.5) rotate(-90)" text-anchor="middle" font-size="9.85">Mean tumor size (cm<tspan font-size="6" dy="-3.2">2</tspan><tspan dy="3.2">)</tspan></text>
<path d="M80.08,695.92V699.54M76.68,695.92H83.48M76.68,699.54H83.48M86.57,682.36V689.6M83.17,682.36H89.97M83.17,689.6H89.97M93.06,668.08V678.93M89.66,668.08H96.46M89.66,678.93H96.46M99.55,655.97V668.62M96.15,655.97H102.95M96.15,668.62H102.95M106.04,643.85V658.32M102.64,643.85H109.44M102.64,658.32H109.44M112.54,630.93V647.2M109.14,630.93H115.94M109.14,647.2H115.94M119.03,616.28V634.36M115.63,616.28H122.43M115.63,634.36H122.43M125.52,603.44V623.33M122.12,603.44H128.92M122.12,623.33H128.92M132.01,584.46V607.96M128.61,584.46H135.41M128.61,607.96H135.41" fill="none" stroke="#4a4a4a" stroke-width="0.75"/>
<polyline points="60.6,706.5 67.09,706.5 73.58,705.23 80.08,697.73 86.57,685.98 93.06,673.5 99.55,662.29 106.04,651.08 112.54,639.06 119.03,625.32 125.52,613.39 132.01,596.21" fill="none" stroke="#000" stroke-width="1.45"/>
<circle cx="60.6" cy="706.5" r="3.19" fill="#fff" stroke="#000" stroke-width="1.1"/><circle cx="67.09" cy="706.5" r="3.19" fill="#fff" stroke="#000" stroke-width="1.1"/><circle cx="73.58" cy="705.23" r="3.19" fill="#fff" stroke="#000" stroke-width="1.1"/><circle cx="80.08" cy="697.73" r="3.19" fill="#fff" stroke="#000" stroke-width="1.1"/><circle cx="86.57" cy="685.98" r="3.19" fill="#fff" stroke="#000" stroke-width="1.1"/><circle cx="93.06" cy="673.5" r="3.19" fill="#fff" stroke="#000" stroke-width="1.1"/><circle cx="99.55" cy="662.29" r="3.19" fill="#fff" stroke="#000" stroke-width="1.1"/><circle cx="106.04" cy="651.08" r="3.19" fill="#fff" stroke="#000" stroke-width="1.1"/><circle cx="112.54" cy="639.06" r="3.19" fill="#fff" stroke="#000" stroke-width="1.1"/><circle cx="119.03" cy="625.32" r="3.19" fill="#fff" stroke="#000" stroke-width="1.1"/><circle cx="125.52" cy="613.39" r="3.19" fill="#fff" stroke="#000" stroke-width="1.1"/><circle cx="132.01" cy="596.21" r="3.19" fill="#fff" stroke="#000" stroke-width="1.1"/>
<path d="M80.08,698.36V701.98M76.68,698.36H83.48M76.68,701.98H83.48M86.57,691.67V698.91M83.17,691.67H89.97M83.17,698.91H89.97M93.06,686.97V696.01M89.66,686.97H96.46M89.66,696.01H96.46M99.55,682.36V693.21M96.15,682.36H102.95M96.15,693.21H102.95M106.04,678.93V691.58M102.64,678.93H109.44M102.64,691.58H109.44M112.54,674.32V688.78M109.14,674.32H115.94M109.14,688.78H115.94M119.03,668.53V684.8M115.63,668.53H122.43M115.63,684.8H122.43M125.52,662.84V680.92M122.12,662.84H128.92M122.12,680.92H128.92M132.01,656.33V676.22M128.61,656.33H135.41M128.61,676.22H135.41M138.5,648.46V670.16M135.1,648.46H141.9M135.1,670.16H141.9M145,638.7V662.2M141.6,638.7H148.4M141.6,662.2H148.4M151.49,628.76V654.07M148.09,628.76H154.89M148.09,654.07H154.89M157.98,617.18V644.3M154.58,617.18H161.38M154.58,644.3H161.38M164.47,605.25V635.08M161.07,605.25H167.87M161.07,635.08H167.87M170.96,592.32V624.87M167.56,592.32H174.36M167.56,624.87H174.36M177.46,579.31V615.47M174.06,579.31H180.86M174.06,615.47H180.86" fill="none" stroke="#4a4a4a" stroke-width="0.75"/>
<polyline points="60.6,706.5 67.09,706.5 73.58,705.6 80.08,700.17 86.57,695.29 93.06,691.49 99.55,687.79 106.04,685.26 112.54,681.55 119.03,676.67 125.52,671.88 132.01,666.27 138.5,659.31 145,650.45 151.49,641.41 157.98,630.74 164.47,620.17 170.96,608.6 177.46,597.39" fill="none" stroke="#000" stroke-width="1.45"/>
<rect x="57.41" y="703.31" width="6.38" height="6.38" fill="#000"/><rect x="63.9" y="703.31" width="6.38" height="6.38" fill="#000"/><rect x="70.39" y="702.41" width="6.38" height="6.38" fill="#000"/><rect x="76.89" y="696.98" width="6.38" height="6.38" fill="#000"/><rect x="83.38" y="692.1" width="6.38" height="6.38" fill="#000"/><rect x="89.87" y="688.3" width="6.38" height="6.38" fill="#000"/><rect x="96.36" y="684.6" width="6.38" height="6.38" fill="#000"/><rect x="102.85" y="682.07" width="6.38" height="6.38" fill="#000"/><rect x="109.35" y="678.36" width="6.38" height="6.38" fill="#000"/><rect x="115.84" y="673.48" width="6.38" height="6.38" fill="#000"/><rect x="122.33" y="668.69" width="6.38" height="6.38" fill="#000"/><rect x="128.82" y="663.08" width="6.38" height="6.38" fill="#000"/><rect x="135.31" y="656.12" width="6.38" height="6.38" fill="#000"/><rect x="141.81" y="647.26" width="6.38" height="6.38" fill="#000"/><rect x="148.3" y="638.22" width="6.38" height="6.38" fill="#000"/><rect x="154.79" y="627.55" width="6.38" height="6.38" fill="#000"/><rect x="161.28" y="616.98" width="6.38" height="6.38" fill="#000"/><rect x="167.77" y="605.41" width="6.38" height="6.38" fill="#000"/><rect x="174.27" y="594.2" width="6.38" height="6.38" fill="#000"/>
<path d="M80.08,699.27V702.88M76.68,699.27H83.48M76.68,702.88H83.48M86.57,693.84V701.08M83.17,693.84H89.97M83.17,701.08H89.97M93.06,687.52V696.56M89.66,687.52H96.46M89.66,696.56H96.46M99.55,684.08V694.93M96.15,684.08H102.95M96.15,694.93H102.95M106.04,681.19V693.84M102.64,681.19H109.44M102.64,693.84H109.44M112.54,678.2V691.76M109.14,678.2H115.94M109.14,691.76H115.94M119.03,674.68V689.14M115.63,674.68H122.43M115.63,689.14H122.43M125.52,671.7V687.06M122.12,671.7H128.92M122.12,687.06H128.92M132.01,667.18V683.45M128.61,667.18H135.41M128.61,683.45H135.41M138.5,661.3V679.38M135.1,661.3H141.9M135.1,679.38H141.9M145,652.89V672.78M141.6,652.89H148.4M141.6,672.78H148.4M151.49,643.67V665.37M148.09,643.67H154.89M148.09,665.37H154.89M157.98,632.82V656.33M154.58,632.82H161.38M154.58,656.33H161.38M164.47,621.98V647.29M161.07,621.98H167.87M161.07,647.29H167.87M170.96,611.13V638.25M167.56,611.13H174.36M167.56,638.25H174.36M177.46,596.21V626.95M174.06,596.21H180.86M174.06,626.95H180.86" fill="none" stroke="#4a4a4a" stroke-width="0.75"/>
<polyline points="60.6,706.5 67.09,706.5 73.58,705.6 80.08,701.08 86.57,697.46 93.06,692.04 99.55,689.5 106.04,687.52 112.54,684.98 119.03,681.91 125.52,679.38 132.01,675.31 138.5,670.34 145,662.84 151.49,654.52 157.98,644.58 164.47,634.63 170.96,624.69 177.46,611.58" fill="none" stroke="#000" stroke-width="1.45"/>
<polygon points="60.6,702.7 64.2,709.1 57,709.1" fill="#000"/><polygon points="67.09,702.7 70.69,709.1 63.49,709.1" fill="#000"/><polygon points="73.58,701.8 77.18,708.2 69.98,708.2" fill="#000"/><polygon points="80.08,697.28 83.68,703.68 76.48,703.68" fill="#000"/><polygon points="86.57,693.66 90.17,700.06 82.97,700.06" fill="#000"/><polygon points="93.06,688.24 96.66,694.64 89.46,694.64" fill="#000"/><polygon points="99.55,685.7 103.15,692.1 95.95,692.1" fill="#000"/><polygon points="106.04,683.72 109.64,690.12 102.44,690.12" fill="#000"/><polygon points="112.54,681.18 116.14,687.58 108.94,687.58" fill="#000"/><polygon points="119.03,678.11 122.63,684.51 115.43,684.51" fill="#000"/><polygon points="125.52,675.58 129.12,681.98 121.92,681.98" fill="#000"/><polygon points="132.01,671.51 135.61,677.91 128.41,677.91" fill="#000"/><polygon points="138.5,666.54 142.1,672.94 134.9,672.94" fill="#000"/><polygon points="145,659.04 148.6,665.44 141.4,665.44" fill="#000"/><polygon points="151.49,650.72 155.09,657.12 147.89,657.12" fill="#000"/><polygon points="157.98,640.78 161.58,647.18 154.38,647.18" fill="#000"/><polygon points="164.47,630.83 168.07,637.23 160.87,637.23" fill="#000"/><polygon points="170.96,620.89 174.56,627.29 167.36,627.29" fill="#000"/><polygon points="177.46,607.78 181.06,614.18 173.86,614.18" fill="#000"/>
<path d="M80.08,699.27V702.88M76.68,699.27H83.48M76.68,702.88H83.48M86.57,694.12V701.35M83.17,694.12H89.97M83.17,701.35H89.97M93.06,687.97V697.01M89.66,687.97H96.46M89.66,697.01H96.46M99.55,684.53V695.38M96.15,684.53H102.95M96.15,695.38H102.95M106.04,681.64V694.3M102.64,681.64H109.44M102.64,694.3H109.44M112.54,678.75V692.31M109.14,678.75H115.94M109.14,692.31H115.94M119.03,675.31V689.78M115.63,675.31H122.43M115.63,689.78H122.43M125.52,672.33V687.7M122.12,672.33H128.92M122.12,687.7H128.92M132.01,668.08V684.35M128.61,668.08H135.41M128.61,684.35H135.41M138.5,662.2V680.28M135.1,662.2H141.9M135.1,680.28H141.9M145,654.07V673.96M141.6,654.07H148.4M141.6,673.96H148.4M151.49,644.49V666.18M148.09,644.49H154.89M148.09,666.18H154.89M157.98,633.55V657.05M154.58,633.55H161.38M154.58,657.05H161.38M164.47,622.7V648.01M161.07,622.7H167.87M161.07,648.01H167.87M170.96,613.03V640.15M167.56,613.03H174.36M167.56,640.15H174.36M177.46,600.46V631.2M174.06,600.46H180.86M174.06,631.2H180.86" fill="none" stroke="#4a4a4a" stroke-width="0.75"/>
<polyline points="60.6,706.5 67.09,706.5 73.58,705.6 80.08,701.08 86.57,697.73 93.06,692.49 99.55,689.96 106.04,687.97 112.54,685.53 119.03,682.54 125.52,680.01 132.01,676.22 138.5,671.24 145,664.01 151.49,655.33 157.98,645.3 164.47,635.36 170.96,626.59 177.46,615.83" fill="none" stroke="#000" stroke-width="1.45"/>
<polygon points="60.6,703.19 63.91,706.5 60.6,709.81 57.29,706.5" fill="#000"/><polygon points="67.09,703.19 70.4,706.5 67.09,709.81 63.78,706.5" fill="#000"/><polygon points="73.58,702.28 76.9,705.6 73.58,708.91 70.27,705.6" fill="#000"/><polygon points="80.08,697.76 83.39,701.08 80.08,704.39 76.76,701.08" fill="#000"/><polygon points="86.57,694.42 89.88,697.73 86.57,701.04 83.26,697.73" fill="#000"/><polygon points="93.06,689.18 96.37,692.49 93.06,695.8 89.75,692.49" fill="#000"/><polygon points="99.55,686.64 102.86,689.96 99.55,693.27 96.24,689.96" fill="#000"/><polygon points="106.04,684.66 109.36,687.97 106.04,691.28 102.73,687.97" fill="#000"/><polygon points="112.54,682.22 115.85,685.53 112.54,688.84 109.22,685.53" fill="#000"/><polygon points="119.03,679.23 122.34,682.54 119.03,685.86 115.72,682.54" fill="#000"/><polygon points="125.52,676.7 128.83,680.01 125.52,683.32 122.21,680.01" fill="#000"/><polygon points="132.01,672.9 135.32,676.22 132.01,679.53 128.7,676.22" fill="#000"/><polygon points="138.5,667.93 141.82,671.24 138.5,674.56 135.19,671.24" fill="#000"/><polygon points="145,660.7 148.31,664.01 145,667.32 141.68,664.01" fill="#000"/><polygon points="151.49,652.02 154.8,655.33 151.49,658.65 148.18,655.33" fill="#000"/><polygon points="157.98,641.99 161.29,645.3 157.98,648.61 154.67,645.3" fill="#000"/><polygon points="164.47,632.04 167.78,635.36 164.47,638.67 161.16,635.36" fill="#000"/><polygon points="170.96,623.27 174.28,626.59 170.96,629.9 167.65,626.59" fill="#000"/><polygon points="177.46,612.52 180.77,615.83 177.46,619.14 174.14,615.83" fill="#000"/>
<path d="M80.08,702.16V704.87M76.68,702.16H83.48M76.68,704.87H83.48M86.57,698.36V703.79M83.17,698.36H89.97M83.17,703.79H89.97M93.06,695.38V702.61M89.66,695.38H96.46M89.66,702.61H96.46M99.55,694.3V702.43M96.15,694.3H102.95M96.15,702.43H102.95M106.04,693.21V702.25M102.64,693.21H109.44M102.64,702.25H109.44M112.54,692.94V701.98M109.14,692.94H115.94M109.14,701.98H115.94M119.03,691.58V701.53M115.63,691.58H122.43M115.63,701.53H122.43M125.52,689.87V700.71M122.12,689.87H128.92M122.12,700.71H128.92M132.01,686.43V699.09M128.61,686.43H135.41M128.61,699.09H135.41M138.5,681.82V696.28M135.1,681.82H141.9M135.1,696.28H141.9M145,677.39V693.66M141.6,677.39H148.4M141.6,693.66H148.4M151.49,673.05V691.13M148.09,673.05H154.89M148.09,691.13H154.89M157.98,667.81V687.7M154.58,667.81H161.38M154.58,687.7H161.38M164.47,662.48V684.17M161.07,662.48H167.87M161.07,684.17H167.87M170.96,656.06V679.56M167.56,656.06H174.36M167.56,679.56H174.36M177.46,648.46V674.68M174.06,648.46H180.86M174.06,674.68H180.86M203.42,597.48V637.25M200.02,597.48H206.82M200.02,637.25H206.82M209.92,588.26V628.94M206.52,588.26H213.32M206.52,628.94H213.32" fill="none" stroke="#505050" stroke-width="0.75"/>
<polyline points="60.6,706.5 67.09,706.5 73.58,705.6 80.08,703.52 86.57,701.08 93.06,699 99.55,698.36 106.04,697.73 112.54,697.46 119.03,696.56 125.52,695.29 132.01,692.76 138.5,689.05 145,685.53 151.49,682.09 157.98,677.75 164.47,673.32 170.96,667.81 177.46,661.57 203.42,617.37 209.92,608.6" fill="none" stroke="#000" stroke-width="1.45"/>
<polygon points="60.6,702.94 64.16,706.5 60.6,710.06 57.04,706.5" fill="#fff" stroke="#000" stroke-width="0.9"/><polygon points="67.09,702.94 70.66,706.5 67.09,710.06 63.53,706.5" fill="#fff" stroke="#000" stroke-width="0.9"/><polygon points="73.58,702.03 77.15,705.6 73.58,709.16 70.02,705.6" fill="#fff" stroke="#000" stroke-width="0.9"/><polygon points="80.08,699.95 83.64,703.52 80.08,707.08 76.51,703.52" fill="#fff" stroke="#000" stroke-width="0.9"/><polygon points="86.57,697.51 90.13,701.08 86.57,704.64 83,701.08" fill="#fff" stroke="#000" stroke-width="0.9"/><polygon points="93.06,695.43 96.62,699 93.06,702.56 89.5,699" fill="#fff" stroke="#000" stroke-width="0.9"/><polygon points="99.55,694.8 103.12,698.36 99.55,701.93 95.99,698.36" fill="#fff" stroke="#000" stroke-width="0.9"/><polygon points="106.04,694.17 109.61,697.73 106.04,701.3 102.48,697.73" fill="#fff" stroke="#000" stroke-width="0.9"/><polygon points="112.54,693.9 116.1,697.46 112.54,701.02 108.97,697.46" fill="#fff" stroke="#000" stroke-width="0.9"/><polygon points="119.03,692.99 122.59,696.56 119.03,700.12 115.46,696.56" fill="#fff" stroke="#000" stroke-width="0.9"/><polygon points="125.52,691.73 129.08,695.29 125.52,698.85 121.96,695.29" fill="#fff" stroke="#000" stroke-width="0.9"/><polygon points="132.01,689.2 135.58,692.76 132.01,696.32 128.45,692.76" fill="#fff" stroke="#000" stroke-width="0.9"/><polygon points="138.5,685.49 142.07,689.05 138.5,692.62 134.94,689.05" fill="#fff" stroke="#000" stroke-width="0.9"/><polygon points="145,681.96 148.56,685.53 145,689.09 141.43,685.53" fill="#fff" stroke="#000" stroke-width="0.9"/><polygon points="151.49,678.53 155.05,682.09 151.49,685.66 147.92,682.09" fill="#fff" stroke="#000" stroke-width="0.9"/><polygon points="157.98,674.19 161.54,677.75 157.98,681.32 154.42,677.75" fill="#fff" stroke="#000" stroke-width="0.9"/><polygon points="164.47,669.76 168.04,673.32 164.47,676.89 160.91,673.32" fill="#fff" stroke="#000" stroke-width="0.9"/><polygon points="170.96,664.24 174.53,667.81 170.96,671.37 167.4,667.81" fill="#fff" stroke="#000" stroke-width="0.9"/><polygon points="177.46,658.01 181.02,661.57 177.46,665.14 173.89,661.57" fill="#fff" stroke="#000" stroke-width="0.9"/><polygon points="203.42,613.8 206.99,617.37 203.42,620.93 199.86,617.37" fill="#fff" stroke="#000" stroke-width="0.9"/><polygon points="209.92,605.03 213.48,608.6 209.92,612.16 206.35,608.6" fill="#fff" stroke="#000" stroke-width="0.9"/>
<path d="M66.4,526.8H76.2" stroke="#000" stroke-width="1"/>
<circle cx="71.3" cy="526.8" r="2.62" fill="#fff" stroke="#000" stroke-width="1.1"/>
<text x="81.3" y="527.9" font-size="8.3">cIg</text>
<path d="M66.4,534.75H76.2" stroke="#000" stroke-width="1"/>
<rect x="68.63" y="532.08" width="5.34" height="5.34" fill="#000"/>
<text x="81.3" y="537.65" font-size="8.3">α-PD1 + α-CTLA-4</text>
<path d="M66.4,542.7H76.2" stroke="#000" stroke-width="1"/>
<polygon points="71.3,539.2 74.61,545.09 67.99,545.09" fill="#000"/>
<text x="81.3" y="545.6" font-size="8.3">α-TIM3 + α-CTLA-4</text>
<path d="M66.4,550.65H76.2" stroke="#000" stroke-width="1"/>
<polygon points="71.3,547.77 74.18,550.65 71.3,553.53 68.42,550.65" fill="#000"/>
<text x="81.3" y="553.55" font-size="8.3">α-TIM3 + α-PD-1</text>
<path d="M66.4,558.6H76.2" stroke="#000" stroke-width="1"/>
<polygon points="71.3,555.56 74.34,558.6 71.3,561.64 68.26,558.6" fill="#fff" stroke="#000" stroke-width="0.9"/>
<text x="81.3" y="561.5" font-size="8.3">α-TIM3 + α-CTLA-4 + α-PD-1</text>
<text x="185.5" y="589" text-anchor="middle" font-family="'DejaVu Sans', sans-serif" font-size="8.6">★</text>
<text x="191.9" y="589" text-anchor="middle" font-family="'DejaVu Sans', sans-serif" font-size="8.6">★</text>
<text x="185.5" y="600.2" text-anchor="middle" font-family="'DejaVu Sans', sans-serif" font-size="8.6">★</text>
<text x="191.9" y="600.2" text-anchor="middle" font-family="'DejaVu Sans', sans-serif" font-size="8.6">★</text>
<text x="185.5" y="614.7" text-anchor="middle" font-family="'DejaVu Sans', sans-serif" font-size="8.6">★</text>
<text x="191.9" y="614.7" text-anchor="middle" font-family="'DejaVu Sans', sans-serif" font-size="8.6">★</text>
<text x="182.6" y="663.6" text-anchor="middle" font-family="'DejaVu Sans', sans-serif" font-size="8.6">★</text>
<text x="188.8" y="663.6" text-anchor="middle" font-family="'DejaVu Sans', sans-serif" font-size="8.6">★</text>
<text x="195" y="663.6" text-anchor="middle" font-family="'DejaVu Sans', sans-serif" font-size="8.6">★</text>
<text x="267.1" y="526.2" font-size="17.4" font-weight="bold">F</text>
<path d="M314,525.4V714.4H490.6" fill="none" stroke="#000" stroke-width="1.3" stroke-linejoin="miter"/>
<text x="308" y="717.8" text-anchor="end">0.0</text>
<text x="308" y="670.7" text-anchor="end">0.5</text>
<text x="308" y="623.6" text-anchor="end">1.0</text>
<text x="308" y="576.5" text-anchor="end">1.5</text>
<text x="308" y="529.4" text-anchor="end">2.0</text>
<text x="314" y="727.7" text-anchor="middle">0</text>
<text x="358" y="727.7" text-anchor="middle">10</text>
<text x="402" y="727.7" text-anchor="middle">20</text>
<text x="446" y="727.7" text-anchor="middle">30</text>
<text x="490" y="727.7" text-anchor="middle">40</text>
<path d="M310.8,714.4H314M310.8,667.3H314M310.8,620.2H314M310.8,573.1H314M310.8,526H314M314,714.4V717.3M358,714.4V717.3M402,714.4V717.3M446,714.4V717.3M490,714.4V717.3" fill="none" stroke="#000" stroke-width="1.2"/>
<text x="402" y="741.2" text-anchor="middle" font-size="9.65">Days after CT26 tumor inoculation</text>
<text transform="translate(287.8,628.6) rotate(-90)" text-anchor="middle" font-size="9.85">Mean tumor size (cm<tspan font-size="6" dy="-3.2">2</tspan><tspan dy="3.2">)</tspan></text>
<path d="M358,693.49V696.31M354.6,693.49H361.4M354.6,696.31H361.4M366.8,685.86V689.25M363.4,685.86H370.2M363.4,689.25H370.2M375.6,678.51V682.47M372.2,678.51H379M372.2,682.47H379M384.4,671.44V675.97M381,671.44H387.8M381,675.97H387.8M393.2,660.8V669.28M389.8,660.8H396.6M389.8,669.28H396.6M402,651.57V660.99M398.6,651.57H405.4M398.6,660.99H405.4M410.8,643V652.42M407.4,643H414.2M407.4,652.42H414.2M419.6,632.63V643M416.2,632.63H423M416.2,643H423M428.4,621.33V632.63M425,621.33H431.8M425,632.63H431.8M437.2,611.06V622.37M433.8,611.06H440.6M433.8,622.37H440.6M446,600.04V612.29M442.6,600.04H449.4M442.6,612.29H449.4" fill="none" stroke="#000" stroke-width="0.85"/>
<polyline points="314,714.4 322.8,714.4 331.6,712.52 340.4,706.86 349.2,701.21 358,694.9 366.8,687.55 375.6,680.49 384.4,673.71 393.2,665.04 402,656.28 410.8,647.71 419.6,637.82 428.4,626.98 437.2,616.71 446,606.16" fill="none" stroke="#000" stroke-width="1.45"/>
<circle cx="314" cy="714.4" r="2.99" fill="#fff" stroke="#000" stroke-width="1.1"/><circle cx="322.8" cy="714.4" r="2.99" fill="#fff" stroke="#000" stroke-width="1.1"/><circle cx="331.6" cy="712.52" r="2.99" fill="#fff" stroke="#000" stroke-width="1.1"/><circle cx="340.4" cy="706.86" r="2.99" fill="#fff" stroke="#000" stroke-width="1.1"/><circle cx="349.2" cy="701.21" r="2.99" fill="#fff" stroke="#000" stroke-width="1.1"/><circle cx="358" cy="694.9" r="2.99" fill="#fff" stroke="#000" stroke-width="1.1"/><circle cx="366.8" cy="687.55" r="2.99" fill="#fff" stroke="#000" stroke-width="1.1"/><circle cx="375.6" cy="680.49" r="2.99" fill="#fff" stroke="#000" stroke-width="1.1"/><circle cx="384.4" cy="673.71" r="2.99" fill="#fff" stroke="#000" stroke-width="1.1"/><circle cx="393.2" cy="665.04" r="2.99" fill="#fff" stroke="#000" stroke-width="1.1"/><circle cx="402" cy="656.28" r="2.99" fill="#fff" stroke="#000" stroke-width="1.1"/><circle cx="410.8" cy="647.71" r="2.99" fill="#fff" stroke="#000" stroke-width="1.1"/><circle cx="419.6" cy="637.82" r="2.99" fill="#fff" stroke="#000" stroke-width="1.1"/><circle cx="428.4" cy="626.98" r="2.99" fill="#fff" stroke="#000" stroke-width="1.1"/><circle cx="437.2" cy="616.71" r="2.99" fill="#fff" stroke="#000" stroke-width="1.1"/><circle cx="446" cy="606.16" r="2.99" fill="#fff" stroke="#000" stroke-width="1.1"/>
<path d="M358,697.91V700.74M354.6,697.91H361.4M354.6,700.74H361.4M366.8,691.42V694.81M363.4,691.42H370.2M363.4,694.81H370.2M375.6,685.57V689.53M372.2,685.57H379M372.2,689.53H379M384.4,679.36V683.88M381,679.36H387.8M381,683.88H387.8M393.2,669.65V678.13M389.8,669.65H396.6M389.8,678.13H396.6M402,660.99V670.41M398.6,660.99H405.4M398.6,670.41H405.4M410.8,652.79V662.21M407.4,652.79H414.2M407.4,662.21H414.2M419.6,643.28V653.64M416.2,643.28H423M416.2,653.64H423M428.4,634.05V645.35M425,634.05H431.8M425,645.35H431.8M437.2,623.03V634.33M433.8,623.03H440.6M433.8,634.33H440.6M446,612.57V624.82M442.6,612.57H449.4M442.6,624.82H449.4" fill="none" stroke="#000" stroke-width="0.85"/>
<polyline points="314,714.4 322.8,714.4 331.6,712.7 340.4,707.81 349.2,703.1 358,699.33 366.8,693.11 375.6,687.55 384.4,681.62 393.2,673.89 402,665.7 410.8,657.5 419.6,648.46 428.4,639.7 437.2,628.68 446,618.69" fill="none" stroke="#000" stroke-width="1.45"/>
<rect x="311.25" y="711.64" width="5.51" height="5.51" fill="#000"/><rect x="320.05" y="711.64" width="5.51" height="5.51" fill="#000"/><rect x="328.85" y="709.95" width="5.51" height="5.51" fill="#000"/><rect x="337.64" y="705.05" width="5.51" height="5.51" fill="#000"/><rect x="346.44" y="700.34" width="5.51" height="5.51" fill="#000"/><rect x="355.25" y="696.57" width="5.51" height="5.51" fill="#000"/><rect x="364.05" y="690.36" width="5.51" height="5.51" fill="#000"/><rect x="372.85" y="684.8" width="5.51" height="5.51" fill="#000"/><rect x="381.64" y="678.86" width="5.51" height="5.51" fill="#000"/><rect x="390.44" y="671.14" width="5.51" height="5.51" fill="#000"/><rect x="399.25" y="662.94" width="5.51" height="5.51" fill="#000"/><rect x="408.05" y="654.75" width="5.51" height="5.51" fill="#000"/><rect x="416.85" y="645.71" width="5.51" height="5.51" fill="#000"/><rect x="425.64" y="636.94" width="5.51" height="5.51" fill="#000"/><rect x="434.45" y="625.92" width="5.51" height="5.51" fill="#000"/><rect x="443.25" y="615.94" width="5.51" height="5.51" fill="#000"/>
<path d="M358,703V705.83M354.6,703H361.4M354.6,705.83H361.4M366.8,700.18V703.57M363.4,700.18H370.2M363.4,703.57H370.2M375.6,697.35V701.31M372.2,697.35H379M372.2,701.31H379M384.4,694.24V698.76M381,694.24H387.8M381,698.76H387.8M393.2,687.55V696.03M389.8,687.55H396.6M389.8,696.03H396.6M402,682.37V691.79M398.6,682.37H405.4M398.6,691.79H405.4M410.8,676.15V687.46M407.4,676.15H414.2M407.4,687.46H414.2M419.6,668.48V681.67M416.2,668.48H423M416.2,681.67H423M428.4,660.52V675.59M425,660.52H431.8M425,675.59H431.8M437.2,653.26V670.22M433.8,653.26H440.6M433.8,670.22H440.6M446,644.32V663.16M442.6,644.32H449.4M442.6,663.16H449.4" fill="none" stroke="#000" stroke-width="0.85"/>
<polyline points="314,714.4 322.8,714.4 331.6,712.99 340.4,709.69 349.2,706.86 358,704.41 366.8,701.87 375.6,699.33 384.4,696.5 393.2,691.79 402,687.08 410.8,681.81 419.6,675.07 428.4,668.05 437.2,661.74 446,653.74" fill="none" stroke="#000" stroke-width="1.45"/>
<polygon points="314,710.98 317.24,716.74 310.76,716.74" fill="#000"/><polygon points="322.8,710.98 326.04,716.74 319.56,716.74" fill="#000"/><polygon points="331.6,709.57 334.84,715.33 328.36,715.33" fill="#000"/><polygon points="340.4,706.27 343.64,712.03 337.16,712.03" fill="#000"/><polygon points="349.2,703.44 352.44,709.2 345.96,709.2" fill="#000"/><polygon points="358,700.99 361.24,706.75 354.76,706.75" fill="#000"/><polygon points="366.8,698.45 370.04,704.21 363.56,704.21" fill="#000"/><polygon points="375.6,695.91 378.84,701.67 372.36,701.67" fill="#000"/><polygon points="384.4,693.08 387.64,698.84 381.16,698.84" fill="#000"/><polygon points="393.2,688.37 396.44,694.13 389.96,694.13" fill="#000"/><polygon points="402,683.66 405.24,689.42 398.76,689.42" fill="#000"/><polygon points="410.8,678.39 414.04,684.15 407.56,684.15" fill="#000"/><polygon points="419.6,671.65 422.84,677.41 416.36,677.41" fill="#000"/><polygon points="428.4,664.63 431.64,670.39 425.16,670.39" fill="#000"/><polygon points="437.2,658.32 440.44,664.08 433.96,664.08" fill="#000"/><polygon points="446,650.32 449.24,656.08 442.76,656.08" fill="#000"/>
<path d="M358,699.23V702.06M354.6,699.23H361.4M354.6,702.06H361.4M366.8,692.92V696.31M363.4,692.92H370.2M363.4,696.31H370.2M375.6,687.36V691.32M372.2,687.36H379M372.2,691.32H379M384.4,683.13V687.65M381,683.13H387.8M381,687.65H387.8M393.2,676.25V684.73M389.8,676.25H396.6M389.8,684.73H396.6M402,668.9V678.32M398.6,668.9H405.4M398.6,678.32H405.4M410.8,660.33V670.69M407.4,660.33H414.2M407.4,670.69H414.2M419.6,651.29V662.59M416.2,651.29H423M416.2,662.59H423M428.4,641.87V653.17M425,641.87H431.8M425,653.17H431.8M437.2,632.35V644.6M433.8,632.35H440.6M433.8,644.6H440.6M446,620.86V634.05M442.6,620.86H449.4M442.6,634.05H449.4" fill="none" stroke="#000" stroke-width="0.85"/>
<polyline points="314,714.4 322.8,714.4 331.6,712.7 340.4,708.28 349.2,704.04 358,700.65 366.8,694.62 375.6,689.34 384.4,685.39 393.2,680.49 402,673.61 410.8,665.51 419.6,656.94 428.4,647.52 437.2,638.47 446,627.45" fill="none" stroke="#000" stroke-width="1.45"/>
<circle cx="314" cy="714.4" r="2.94" fill="#000"/><circle cx="322.8" cy="714.4" r="2.94" fill="#000"/><circle cx="331.6" cy="712.7" r="2.94" fill="#000"/><circle cx="340.4" cy="708.28" r="2.94" fill="#000"/><circle cx="349.2" cy="704.04" r="2.94" fill="#000"/><circle cx="358" cy="700.65" r="2.94" fill="#000"/><circle cx="366.8" cy="694.62" r="2.94" fill="#000"/><circle cx="375.6" cy="689.34" r="2.94" fill="#000"/><circle cx="384.4" cy="685.39" r="2.94" fill="#000"/><circle cx="393.2" cy="680.49" r="2.94" fill="#000"/><circle cx="402" cy="673.61" r="2.94" fill="#000"/><circle cx="410.8" cy="665.51" r="2.94" fill="#000"/><circle cx="419.6" cy="656.94" r="2.94" fill="#000"/><circle cx="428.4" cy="647.52" r="2.94" fill="#000"/><circle cx="437.2" cy="638.47" r="2.94" fill="#000"/><circle cx="446" cy="627.45" r="2.94" fill="#000"/>
<path d="M393.2,705.92V709.69M389.8,705.92H396.6M389.8,709.69H396.6M402,703.76V708.47M398.6,703.76H405.4M398.6,708.47H405.4M410.8,701.59V707.24M407.4,701.59H414.2M407.4,707.24H414.2M419.6,698.1V705.64M416.2,698.1H423M416.2,705.64H423M428.4,693.86V703.28M425,693.86H431.8M425,703.28H431.8M437.2,690.94V701.31M433.8,690.94H440.6M433.8,701.31H440.6M446,683.97V697.16M442.6,683.97H449.4M442.6,697.16H449.4" fill="none" stroke="#000" stroke-width="0.85"/>
<polyline points="314,714.4 322.8,714.4 331.6,713.46 340.4,710.63 349.2,708.75 358,708.18 366.8,707.81 375.6,708.18 384.4,708.09 393.2,707.81 402,706.11 410.8,704.41 419.6,701.87 428.4,698.57 437.2,696.13 446,690.57" fill="none" stroke="#000" stroke-width="1.45"/>
<polygon points="314,711.26 317.13,714.4 314,717.53 310.87,714.4" fill="#fff" stroke="#000" stroke-width="0.9"/><polygon points="322.8,711.26 325.94,714.4 322.8,717.53 319.67,714.4" fill="#fff" stroke="#000" stroke-width="0.9"/><polygon points="331.6,710.32 334.74,713.46 331.6,716.59 328.47,713.46" fill="#fff" stroke="#000" stroke-width="0.9"/><polygon points="340.4,707.5 343.53,710.63 340.4,713.77 337.26,710.63" fill="#fff" stroke="#000" stroke-width="0.9"/><polygon points="349.2,705.61 352.33,708.75 349.2,711.88 346.06,708.75" fill="#fff" stroke="#000" stroke-width="0.9"/><polygon points="358,705.05 361.13,708.18 358,711.32 354.87,708.18" fill="#fff" stroke="#000" stroke-width="0.9"/><polygon points="366.8,704.67 369.94,707.81 366.8,710.94 363.67,707.81" fill="#fff" stroke="#000" stroke-width="0.9"/><polygon points="375.6,705.05 378.74,708.18 375.6,711.32 372.47,708.18" fill="#fff" stroke="#000" stroke-width="0.9"/><polygon points="384.4,704.95 387.53,708.09 384.4,711.22 381.26,708.09" fill="#fff" stroke="#000" stroke-width="0.9"/><polygon points="393.2,704.67 396.33,707.81 393.2,710.94 390.06,707.81" fill="#fff" stroke="#000" stroke-width="0.9"/><polygon points="402,702.98 405.13,706.11 402,709.25 398.87,706.11" fill="#fff" stroke="#000" stroke-width="0.9"/><polygon points="410.8,701.28 413.94,704.41 410.8,707.55 407.67,704.41" fill="#fff" stroke="#000" stroke-width="0.9"/><polygon points="419.6,698.74 422.74,701.87 419.6,705.01 416.47,701.87" fill="#fff" stroke="#000" stroke-width="0.9"/><polygon points="428.4,695.44 431.53,698.57 428.4,701.71 425.26,698.57" fill="#fff" stroke="#000" stroke-width="0.9"/><polygon points="437.2,692.99 440.34,696.13 437.2,699.26 434.07,696.13" fill="#fff" stroke="#000" stroke-width="0.9"/><polygon points="446,687.43 449.13,690.57 446,693.7 442.87,690.57" fill="#fff" stroke="#000" stroke-width="0.9"/>
<path d="M358,703V705.83M354.6,703H361.4M354.6,705.83H361.4M366.8,700.18V703.57M363.4,700.18H370.2M363.4,703.57H370.2M375.6,697.16V700.55M372.2,697.16H379M372.2,700.55H379M384.4,692.64V696.6M381,692.64H387.8M381,696.6H387.8M393.2,685.57V693.11M389.8,685.57H396.6M389.8,693.11H396.6M402,680.3V687.84M398.6,680.3H405.4M398.6,687.84H405.4M410.8,673.8V682.28M407.4,673.8H414.2M407.4,682.28H414.2M419.6,665.89V675.31M416.2,665.89H423M416.2,675.31H423M428.4,658.35V667.77M425,658.35H431.8M425,667.77H431.8M437.2,651.57V661.93M433.8,651.57H440.6M433.8,661.93H440.6M446,641.11V652.42M442.6,641.11H449.4M442.6,652.42H449.4" fill="none" stroke="#000" stroke-width="0.85"/>
<polyline points="314,714.4 322.8,714.4 331.6,712.99 340.4,709.69 349.2,706.39 358,704.41 366.8,701.87 375.6,698.86 384.4,694.62 393.2,689.34 402,684.07 410.8,678.04 419.6,670.6 428.4,663.06 437.2,656.75 446,646.76" fill="none" stroke="#000" stroke-width="1.45"/>
<polygon points="310.7,711.8 317.3,711.8 314,717.8" fill="#fff" stroke="#000" stroke-width="0.9"/><polygon points="319.5,711.8 326.1,711.8 322.8,717.8" fill="#fff" stroke="#000" stroke-width="0.9"/><polygon points="328.3,710.39 334.9,710.39 331.6,716.39" fill="#fff" stroke="#000" stroke-width="0.9"/><polygon points="337.1,707.09 343.7,707.09 340.4,713.09" fill="#fff" stroke="#000" stroke-width="0.9"/><polygon points="345.9,703.79 352.5,703.79 349.2,709.79" fill="#fff" stroke="#000" stroke-width="0.9"/><polygon points="354.7,701.81 361.3,701.81 358,707.81" fill="#fff" stroke="#000" stroke-width="0.9"/><polygon points="363.5,699.27 370.1,699.27 366.8,705.27" fill="#fff" stroke="#000" stroke-width="0.9"/><polygon points="372.3,696.26 378.9,696.26 375.6,702.26" fill="#fff" stroke="#000" stroke-width="0.9"/><polygon points="381.1,692.02 387.7,692.02 384.4,698.02" fill="#fff" stroke="#000" stroke-width="0.9"/><polygon points="389.9,686.74 396.5,686.74 393.2,692.74" fill="#fff" stroke="#000" stroke-width="0.9"/><polygon points="398.7,681.47 405.3,681.47 402,687.47" fill="#fff" stroke="#000" stroke-width="0.9"/><polygon points="407.5,675.44 414.1,675.44 410.8,681.44" fill="#fff" stroke="#000" stroke-width="0.9"/><polygon points="416.3,668 422.9,668 419.6,674" fill="#fff" stroke="#000" stroke-width="0.9"/><polygon points="425.1,660.46 431.7,660.46 428.4,666.46" fill="#fff" stroke="#000" stroke-width="0.9"/><polygon points="433.9,654.15 440.5,654.15 437.2,660.15" fill="#fff" stroke="#000" stroke-width="0.9"/><polygon points="442.7,644.16 449.3,644.16 446,650.16" fill="#fff" stroke="#000" stroke-width="0.9"/>
<path d="M319.4,528H329.2" stroke="#000" stroke-width="1"/>
<circle cx="324.3" cy="528" r="2.62" fill="#fff" stroke="#000" stroke-width="1.1"/>
<text x="332.5" y="530.9" font-size="8.3">cIg</text>
<path d="M319.4,536.25H329.2" stroke="#000" stroke-width="1"/>
<rect x="321.63" y="533.58" width="5.34" height="5.34" fill="#000"/>
<text x="332.5" y="539.15" font-size="8.3">α-CTLA- 4</text>
<path d="M319.4,544.5H329.2" stroke="#000" stroke-width="1"/>
<polygon points="324.3,541 327.61,546.89 320.99,546.89" fill="#000"/>
<text x="332.5" y="547.4" font-size="8.3">α-PD-1</text>
<path d="M319.4,552.75H329.2" stroke="#000" stroke-width="1"/>
<circle cx="324.3" cy="552.75" r="2.85" fill="#000"/>
<text x="332.5" y="555.65" font-size="8.3">α-TIM3</text>
<path d="M319.4,561H329.2" stroke="#000" stroke-width="1"/>
<polygon points="324.3,557.96 327.34,561 324.3,564.04 321.26,561" fill="#fff" stroke="#000" stroke-width="0.9"/>
<text x="332.5" y="563.9" font-size="8.3">α-PD-1 + α-TIM3</text>
<path d="M319.4,569.25H329.2" stroke="#000" stroke-width="1"/>
<polygon points="321.26,566.86 327.34,566.86 324.3,572.38" fill="#fff" stroke="#000" stroke-width="0.9"/>
<text x="332.5" y="572.15" font-size="8.3">α-CTLA-4 + α-TIM3</text>
<text x="455.15" y="646.25" text-anchor="middle" font-family="'DejaVu Sans', sans-serif" font-size="6.8">★</text>
<text x="460.45" y="646.25" text-anchor="middle" font-family="'DejaVu Sans', sans-serif" font-size="6.8">★</text>
<text x="457.5" y="656.25" text-anchor="middle" font-family="'DejaVu Sans', sans-serif" font-size="6.8">★</text>
<text x="455.15" y="690.75" text-anchor="middle" font-family="'DejaVu Sans', sans-serif" font-size="6.8">★</text>
<text x="460.45" y="690.75" text-anchor="middle" font-family="'DejaVu Sans', sans-serif" font-size="6.8">★</text>
<rect x="0" y="0" width="520" height="1.6" fill="#5a5a5a"/>
<rect x="0" y="0" width="1.6" height="763" fill="#5a5a5a"/>
<rect x="518" y="0" width="1" height="763" fill="#7a7a7a"/>
<rect x="519" y="0" width="1" height="763" fill="#b0b0b0"/>
<rect x="0" y="760.8" width="520" height="2.2" fill="#7a7a7a"/>
</svg>
</body></html>
